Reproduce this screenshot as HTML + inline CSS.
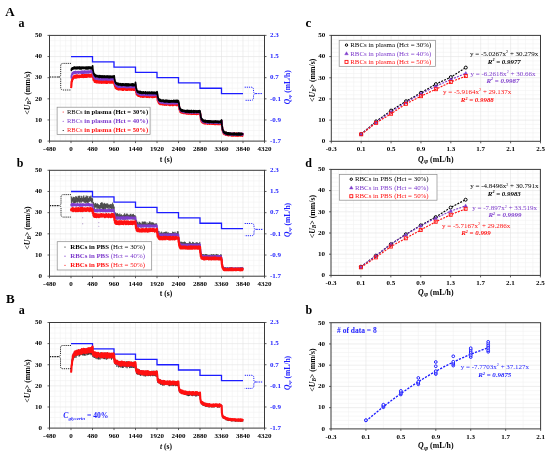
<!DOCTYPE html>
<html><head><meta charset="utf-8"><style>
html,body{margin:0;padding:0;background:#fff;}
body{width:550px;height:457px;overflow:hidden;font-family:"Liberation Serif", serif;}
svg{display:block;will-change:transform;}
</style></head><body>
<svg width="550" height="457" viewBox="0 0 550 457" font-family='"Liberation Serif", serif'>
<rect width="550" height="457" fill="#fff"/>
<text x="5.3" y="15.5" font-size="13" text-anchor="start" fill="#000" font-weight="bold" font-style="normal" >A</text>
<text x="18.6" y="27.2" font-size="12" text-anchor="start" fill="#000" font-weight="bold" font-style="normal" >a</text>
<text x="16.8" y="167.3" font-size="12" text-anchor="start" fill="#000" font-weight="bold" font-style="normal" >b</text>
<text x="305.4" y="27.3" font-size="13" text-anchor="start" fill="#000" font-weight="bold" font-style="normal" >c</text>
<text x="305.2" y="167.1" font-size="12" text-anchor="start" fill="#000" font-weight="bold" font-style="normal" >d</text>
<text x="6.1" y="303.1" font-size="13" text-anchor="start" fill="#000" font-weight="bold" font-style="normal" >B</text>
<text x="18.8" y="314.4" font-size="12" text-anchor="start" fill="#000" font-weight="bold" font-style="normal" >a</text>
<text x="305.6" y="314" font-size="12" text-anchor="start" fill="#000" font-weight="bold" font-style="normal" >b</text>
<line x1="54.88" y1="35.4" x2="54.88" y2="141.1" stroke="#f1f1f1" stroke-width="0.6" />
<line x1="60.25" y1="35.4" x2="60.25" y2="141.1" stroke="#f1f1f1" stroke-width="0.6" />
<line x1="65.62" y1="35.4" x2="65.62" y2="141.1" stroke="#f1f1f1" stroke-width="0.6" />
<line x1="76.38" y1="35.4" x2="76.38" y2="141.1" stroke="#f1f1f1" stroke-width="0.6" />
<line x1="81.75" y1="35.4" x2="81.75" y2="141.1" stroke="#f1f1f1" stroke-width="0.6" />
<line x1="87.12" y1="35.4" x2="87.12" y2="141.1" stroke="#f1f1f1" stroke-width="0.6" />
<line x1="97.88" y1="35.4" x2="97.88" y2="141.1" stroke="#f1f1f1" stroke-width="0.6" />
<line x1="103.25" y1="35.4" x2="103.25" y2="141.1" stroke="#f1f1f1" stroke-width="0.6" />
<line x1="108.62" y1="35.4" x2="108.62" y2="141.1" stroke="#f1f1f1" stroke-width="0.6" />
<line x1="119.38" y1="35.4" x2="119.38" y2="141.1" stroke="#f1f1f1" stroke-width="0.6" />
<line x1="124.75" y1="35.4" x2="124.75" y2="141.1" stroke="#f1f1f1" stroke-width="0.6" />
<line x1="130.12" y1="35.4" x2="130.12" y2="141.1" stroke="#f1f1f1" stroke-width="0.6" />
<line x1="140.88" y1="35.4" x2="140.88" y2="141.1" stroke="#f1f1f1" stroke-width="0.6" />
<line x1="146.25" y1="35.4" x2="146.25" y2="141.1" stroke="#f1f1f1" stroke-width="0.6" />
<line x1="151.62" y1="35.4" x2="151.62" y2="141.1" stroke="#f1f1f1" stroke-width="0.6" />
<line x1="162.38" y1="35.4" x2="162.38" y2="141.1" stroke="#f1f1f1" stroke-width="0.6" />
<line x1="167.75" y1="35.4" x2="167.75" y2="141.1" stroke="#f1f1f1" stroke-width="0.6" />
<line x1="173.12" y1="35.4" x2="173.12" y2="141.1" stroke="#f1f1f1" stroke-width="0.6" />
<line x1="183.88" y1="35.4" x2="183.88" y2="141.1" stroke="#f1f1f1" stroke-width="0.6" />
<line x1="189.25" y1="35.4" x2="189.25" y2="141.1" stroke="#f1f1f1" stroke-width="0.6" />
<line x1="194.62" y1="35.4" x2="194.62" y2="141.1" stroke="#f1f1f1" stroke-width="0.6" />
<line x1="205.38" y1="35.4" x2="205.38" y2="141.1" stroke="#f1f1f1" stroke-width="0.6" />
<line x1="210.75" y1="35.4" x2="210.75" y2="141.1" stroke="#f1f1f1" stroke-width="0.6" />
<line x1="216.12" y1="35.4" x2="216.12" y2="141.1" stroke="#f1f1f1" stroke-width="0.6" />
<line x1="226.88" y1="35.4" x2="226.88" y2="141.1" stroke="#f1f1f1" stroke-width="0.6" />
<line x1="232.25" y1="35.4" x2="232.25" y2="141.1" stroke="#f1f1f1" stroke-width="0.6" />
<line x1="237.62" y1="35.4" x2="237.62" y2="141.1" stroke="#f1f1f1" stroke-width="0.6" />
<line x1="248.38" y1="35.4" x2="248.38" y2="141.1" stroke="#f1f1f1" stroke-width="0.6" />
<line x1="253.75" y1="35.4" x2="253.75" y2="141.1" stroke="#f1f1f1" stroke-width="0.6" />
<line x1="259.12" y1="35.4" x2="259.12" y2="141.1" stroke="#f1f1f1" stroke-width="0.6" />
<line x1="49.5" y1="40.68" x2="264.5" y2="40.68" stroke="#f1f1f1" stroke-width="0.6" />
<line x1="49.5" y1="45.97" x2="264.5" y2="45.97" stroke="#f1f1f1" stroke-width="0.6" />
<line x1="49.5" y1="51.25" x2="264.5" y2="51.25" stroke="#f1f1f1" stroke-width="0.6" />
<line x1="49.5" y1="61.83" x2="264.5" y2="61.83" stroke="#f1f1f1" stroke-width="0.6" />
<line x1="49.5" y1="67.11" x2="264.5" y2="67.11" stroke="#f1f1f1" stroke-width="0.6" />
<line x1="49.5" y1="72.39" x2="264.5" y2="72.39" stroke="#f1f1f1" stroke-width="0.6" />
<line x1="49.5" y1="82.97" x2="264.5" y2="82.97" stroke="#f1f1f1" stroke-width="0.6" />
<line x1="49.5" y1="88.25" x2="264.5" y2="88.25" stroke="#f1f1f1" stroke-width="0.6" />
<line x1="49.5" y1="93.53" x2="264.5" y2="93.53" stroke="#f1f1f1" stroke-width="0.6" />
<line x1="49.5" y1="104.1" x2="264.5" y2="104.1" stroke="#f1f1f1" stroke-width="0.6" />
<line x1="49.5" y1="109.39" x2="264.5" y2="109.39" stroke="#f1f1f1" stroke-width="0.6" />
<line x1="49.5" y1="114.67" x2="264.5" y2="114.67" stroke="#f1f1f1" stroke-width="0.6" />
<line x1="49.5" y1="125.25" x2="264.5" y2="125.25" stroke="#f1f1f1" stroke-width="0.6" />
<line x1="49.5" y1="130.53" x2="264.5" y2="130.53" stroke="#f1f1f1" stroke-width="0.6" />
<line x1="49.5" y1="135.81" x2="264.5" y2="135.81" stroke="#f1f1f1" stroke-width="0.6" />
<line x1="71" y1="35.4" x2="71" y2="141.1" stroke="#e2e2e2" stroke-width="0.6" />
<line x1="92.5" y1="35.4" x2="92.5" y2="141.1" stroke="#e2e2e2" stroke-width="0.6" />
<line x1="114" y1="35.4" x2="114" y2="141.1" stroke="#e2e2e2" stroke-width="0.6" />
<line x1="135.5" y1="35.4" x2="135.5" y2="141.1" stroke="#e2e2e2" stroke-width="0.6" />
<line x1="157" y1="35.4" x2="157" y2="141.1" stroke="#e2e2e2" stroke-width="0.6" />
<line x1="178.5" y1="35.4" x2="178.5" y2="141.1" stroke="#e2e2e2" stroke-width="0.6" />
<line x1="200" y1="35.4" x2="200" y2="141.1" stroke="#e2e2e2" stroke-width="0.6" />
<line x1="221.5" y1="35.4" x2="221.5" y2="141.1" stroke="#e2e2e2" stroke-width="0.6" />
<line x1="243" y1="35.4" x2="243" y2="141.1" stroke="#e2e2e2" stroke-width="0.6" />
<line x1="49.5" y1="56.54" x2="264.5" y2="56.54" stroke="#e2e2e2" stroke-width="0.6" />
<line x1="49.5" y1="77.68" x2="264.5" y2="77.68" stroke="#e2e2e2" stroke-width="0.6" />
<line x1="49.5" y1="98.82" x2="264.5" y2="98.82" stroke="#e2e2e2" stroke-width="0.6" />
<line x1="49.5" y1="119.96" x2="264.5" y2="119.96" stroke="#e2e2e2" stroke-width="0.6" />
<line x1="47.5" y1="35.4" x2="49.5" y2="35.4" stroke="#3a3a3a" stroke-width="0.8" />
<line x1="264.5" y1="35.4" x2="266.5" y2="35.4" stroke="#3a3a3a" stroke-width="0.8" />
<line x1="47.5" y1="56.54" x2="49.5" y2="56.54" stroke="#3a3a3a" stroke-width="0.8" />
<line x1="264.5" y1="56.54" x2="266.5" y2="56.54" stroke="#3a3a3a" stroke-width="0.8" />
<line x1="47.5" y1="77.68" x2="49.5" y2="77.68" stroke="#3a3a3a" stroke-width="0.8" />
<line x1="264.5" y1="77.68" x2="266.5" y2="77.68" stroke="#3a3a3a" stroke-width="0.8" />
<line x1="47.5" y1="98.82" x2="49.5" y2="98.82" stroke="#3a3a3a" stroke-width="0.8" />
<line x1="264.5" y1="98.82" x2="266.5" y2="98.82" stroke="#3a3a3a" stroke-width="0.8" />
<line x1="47.5" y1="119.96" x2="49.5" y2="119.96" stroke="#3a3a3a" stroke-width="0.8" />
<line x1="264.5" y1="119.96" x2="266.5" y2="119.96" stroke="#3a3a3a" stroke-width="0.8" />
<line x1="47.5" y1="141.1" x2="49.5" y2="141.1" stroke="#3a3a3a" stroke-width="0.8" />
<line x1="264.5" y1="141.1" x2="266.5" y2="141.1" stroke="#3a3a3a" stroke-width="0.8" />
<line x1="49.5" y1="141.1" x2="49.5" y2="143.1" stroke="#3a3a3a" stroke-width="0.8" />
<line x1="71" y1="141.1" x2="71" y2="143.1" stroke="#3a3a3a" stroke-width="0.8" />
<line x1="92.5" y1="141.1" x2="92.5" y2="143.1" stroke="#3a3a3a" stroke-width="0.8" />
<line x1="114" y1="141.1" x2="114" y2="143.1" stroke="#3a3a3a" stroke-width="0.8" />
<line x1="135.5" y1="141.1" x2="135.5" y2="143.1" stroke="#3a3a3a" stroke-width="0.8" />
<line x1="157" y1="141.1" x2="157" y2="143.1" stroke="#3a3a3a" stroke-width="0.8" />
<line x1="178.5" y1="141.1" x2="178.5" y2="143.1" stroke="#3a3a3a" stroke-width="0.8" />
<line x1="200" y1="141.1" x2="200" y2="143.1" stroke="#3a3a3a" stroke-width="0.8" />
<line x1="221.5" y1="141.1" x2="221.5" y2="143.1" stroke="#3a3a3a" stroke-width="0.8" />
<line x1="243" y1="141.1" x2="243" y2="143.1" stroke="#3a3a3a" stroke-width="0.8" />
<line x1="264.5" y1="141.1" x2="264.5" y2="143.1" stroke="#3a3a3a" stroke-width="0.8" />
<text x="42.1" y="37.2" font-size="7" text-anchor="end" fill="#000" font-weight="bold" font-style="normal" >50</text>
<text x="269.9" y="37.2" font-size="7" text-anchor="start" fill="#1c1cff" font-weight="bold" font-style="normal" >2.3</text>
<text x="42.1" y="58.34" font-size="7" text-anchor="end" fill="#000" font-weight="bold" font-style="normal" >40</text>
<text x="269.9" y="58.34" font-size="7" text-anchor="start" fill="#1c1cff" font-weight="bold" font-style="normal" >1.5</text>
<text x="42.1" y="79.48" font-size="7" text-anchor="end" fill="#000" font-weight="bold" font-style="normal" >30</text>
<text x="269.9" y="79.48" font-size="7" text-anchor="start" fill="#1c1cff" font-weight="bold" font-style="normal" >0.7</text>
<text x="42.1" y="100.62" font-size="7" text-anchor="end" fill="#000" font-weight="bold" font-style="normal" >20</text>
<text x="269.9" y="100.62" font-size="7" text-anchor="start" fill="#1c1cff" font-weight="bold" font-style="normal" >-0.1</text>
<text x="42.1" y="121.76" font-size="7" text-anchor="end" fill="#000" font-weight="bold" font-style="normal" >10</text>
<text x="269.9" y="121.76" font-size="7" text-anchor="start" fill="#1c1cff" font-weight="bold" font-style="normal" >-0.9</text>
<text x="42.1" y="142.9" font-size="7" text-anchor="end" fill="#000" font-weight="bold" font-style="normal" >0</text>
<text x="269.9" y="142.9" font-size="7" text-anchor="start" fill="#1c1cff" font-weight="bold" font-style="normal" >-1.7</text>
<text x="49.5" y="150.9" font-size="7" text-anchor="middle" fill="#000" font-weight="bold" font-style="normal" >-480</text>
<text x="71" y="150.9" font-size="7" text-anchor="middle" fill="#000" font-weight="bold" font-style="normal" >0</text>
<text x="92.5" y="150.9" font-size="7" text-anchor="middle" fill="#000" font-weight="bold" font-style="normal" >480</text>
<text x="114" y="150.9" font-size="7" text-anchor="middle" fill="#000" font-weight="bold" font-style="normal" >960</text>
<text x="135.5" y="150.9" font-size="7" text-anchor="middle" fill="#000" font-weight="bold" font-style="normal" >1440</text>
<text x="157" y="150.9" font-size="7" text-anchor="middle" fill="#000" font-weight="bold" font-style="normal" >1920</text>
<text x="178.5" y="150.9" font-size="7" text-anchor="middle" fill="#000" font-weight="bold" font-style="normal" >2400</text>
<text x="200" y="150.9" font-size="7" text-anchor="middle" fill="#000" font-weight="bold" font-style="normal" >2880</text>
<text x="221.5" y="150.9" font-size="7" text-anchor="middle" fill="#000" font-weight="bold" font-style="normal" >3360</text>
<text x="243" y="150.9" font-size="7" text-anchor="middle" fill="#000" font-weight="bold" font-style="normal" >3840</text>
<text x="264.5" y="150.9" font-size="7" text-anchor="middle" fill="#000" font-weight="bold" font-style="normal" >4320</text>
<polyline points="71,56.54 92.5,56.54 92.5,61.83 114,61.83 114,67.11 135.5,67.11 135.5,72.39 157,72.39 157,77.68 178.5,77.68 178.5,82.97 200,82.97 200,88.25 221.5,88.25 221.5,93.53 243,93.53" fill="none" stroke="#1c1cff" stroke-width="1.3"/>
<polyline points="71,88 71.3,86.17 71.6,81.78 71.9,81.6 72.2,79.06 72.5,79.64 72.8,77.41 73.1,78.82 73.4,77.07 73.7,77.62 74,76.04 74.3,77.63 74.6,75.86 74.9,77.1 75.2,75.98 75.5,77.58 75.8,76.07 76.1,77.69 76.4,75.46 76.7,76.89 77,76.13 77.3,77.26 77.6,75.34 77.9,77.09 78.2,75.89 78.5,77.09 78.8,76 79.1,76.89 79.4,75.63 79.7,77.07 80,75.77 80.3,76.82 80.6,75.74 80.9,76.97 81.2,75.65 81.5,76.58 81.8,75.17 82.1,76.98 82.4,75.29 82.7,76.64 83,74.97 83.3,77.16 83.6,75.64 83.9,76.69 84.2,75.12 84.5,76.97 84.8,74.91 85.1,76.69 85.4,74.96 85.7,76.86 86,75.35 86.3,76.76 86.6,74.85 86.9,76.93 87.2,75.12 87.5,76.69 87.8,75.47 88.1,76.37 88.4,74.81 88.7,76.48 89,75.28 89.3,76.55 89.6,74.82 89.9,76.62 90.2,75.05 90.5,76.39 90.8,74.9 91.1,76.63 91.4,74.86 91.7,76.28 92,74.85 92.3,75.95 92.6,73.31 92.9,77.34 93.2,76.9 93.5,79.9 93.8,79.06 94.1,80.67 94.4,79.74 94.7,81.87 95,79.92 95.3,81.82 95.6,80.09 95.9,81.76 96.2,80.53 96.5,82.48 96.8,80.59 97.1,82.18 97.4,80.93 97.7,82.32 98,80.43 98.3,81.94 98.6,80.63 98.9,82.66 99.2,80.59 99.5,82.63 99.8,80.69 100.1,82.49 100.4,80.93 100.7,82.44 101,81.37 101.3,82.83 101.6,80.97 101.9,82.3 102.2,81.04 102.5,82.55 102.8,81.18 103.1,82.46 103.4,81.05 103.7,82.69 104,81 104.3,82.57 104.6,81.48 104.9,82.39 105.2,81.37 105.5,82.69 105.8,80.82 106.1,82.87 106.4,80.88 106.7,82.89 107,81.32 107.3,82.92 107.6,80.99 107.9,82.3 108.2,81.53 108.5,82.25 108.8,80.93 109.1,82.44 109.4,81.46 109.7,82.75 110,81.27 110.3,82.3 110.6,81.42 110.9,82.68 111.2,81.41 111.5,82.47 111.8,80.97 112.1,82.62 112.4,81.29 112.7,82.64 113,81.53 113.3,82.57 113.6,81.21 113.9,82.41 114.2,80.78 114.5,84.72 114.8,84.35 115.1,86.58 115.4,85.84 115.7,88.13 116,87.06 116.3,88.02 116.6,87.36 116.9,88.9 117.2,87.59 117.5,89.08 117.8,87.33 118.1,89.09 118.4,87.82 118.7,89.54 119,87.44 119.3,89.25 119.6,87.98 119.9,89.42 120.2,87.9 120.5,89.42 120.8,88.01 121.1,89.51 121.4,88.27 121.7,89.27 122,87.56 122.3,89.77 122.6,88.13 122.9,89.79 123.2,88.15 123.5,89.87 123.8,87.82 124.1,89.47 124.4,88.23 124.7,89.15 125,87.74 125.3,89.19 125.6,87.8 125.9,89.95 126.2,88.01 126.5,89.32 126.8,87.78 127.1,89.98 127.4,87.92 127.7,89.61 128,88.19 128.3,89.48 128.6,88.34 128.9,89.75 129.2,88.16 129.5,89.37 129.8,88.43 130.1,89.76 130.4,88.28 130.7,89.62 131,88.26 131.3,89.93 131.6,87.79 131.9,89.24 132.2,88.36 132.5,89.49 132.8,87.72 133.1,89.86 133.4,88.25 133.7,89.4 134,87.98 134.3,89.91 134.6,87.77 134.9,89.51 135.2,87.81 135.5,86.62 135.8,88.45 136.1,92.43 136.4,92.03 136.7,94.35 137,93.56 137.3,94.86 137.6,93.57 137.9,95.39 138.2,94.07 138.5,96 138.8,94.23 139.1,96 139.4,94.8 139.7,96.07 140,94.48 140.3,96.43 140.6,94.5 140.9,96.74 141.2,95.24 141.5,96.53 141.8,95.33 142.1,96.17 142.4,95.4 142.7,96.88 143,94.86 143.3,96.89 143.6,95.26 143.9,96.75 144.2,94.93 144.5,96.58 144.8,95.12 145.1,96.48 145.4,95.54 145.7,96.53 146,94.9 146.3,96.79 146.6,94.89 146.9,96.72 147.2,95.43 147.5,97 147.8,94.99 148.1,96.38 148.4,95.13 148.7,96.45 149,95.59 149.3,97.1 149.6,95.66 149.9,96.58 150.2,94.89 150.5,96.74 150.8,95.6 151.1,96.53 151.4,95.51 151.7,97.01 152,95.62 152.3,97.15 152.6,95.4 152.9,97.2 153.2,94.97 153.5,96.65 153.8,95.51 154.1,96.8 154.4,95.63 154.7,96.94 155,95.68 155.3,96.42 155.6,94.92 155.9,96.66 156.2,95.23 156.5,96.78 156.8,95.46 157.1,94.76 157.4,96.37 157.7,100.5 158,99.44 158.3,101.82 158.6,101.41 158.9,103.18 159.2,101.46 159.5,103.62 159.8,102.09 160.1,104.02 160.4,102.68 160.7,104.12 161,102.81 161.3,104.02 161.6,103.11 161.9,104.16 162.2,102.48 162.5,104.38 162.8,102.82 163.1,104.61 163.4,102.65 163.7,104.46 164,103.22 164.3,104.46 164.6,103.26 164.9,104.92 165.2,102.83 165.5,104.51 165.8,103.31 166.1,104.74 166.4,103.14 166.7,104.8 167,103.43 167.3,104.36 167.6,103.45 167.9,104.42 168.2,103.22 168.5,104.43 168.8,103.62 169.1,104.9 169.4,103.46 169.7,105.04 170,103.3 170.3,105.11 170.6,103.59 170.9,104.82 171.2,103.07 171.5,104.48 171.8,102.95 172.1,104.57 172.4,103.1 172.7,105.23 173,103.06 173.3,104.69 173.6,103.65 173.9,104.85 174.2,102.99 174.5,104.68 174.8,103.01 175.1,104.56 175.4,103 175.7,104.47 176,103.49 176.3,105.18 176.6,103.09 176.9,105.18 177.2,103.06 177.5,105.05 177.8,103.19 178.1,104.59 178.4,103.4 178.7,104.23 179,105.62 179.3,109.2 179.6,108.89 179.9,110.61 180.2,109.61 180.5,112.14 180.8,110.62 181.1,112.43 181.4,110.77 181.7,112.67 182,111.39 182.3,112.78 182.6,111.68 182.9,112.67 183.2,111.49 183.5,113.11 183.8,111.66 184.1,112.91 184.4,111.91 184.7,113.05 185,112.17 185.3,113.21 185.6,111.65 185.9,113.37 186.2,112.05 186.5,113.59 186.8,112.23 187.1,113.14 187.4,112.02 187.7,113.57 188,111.95 188.3,113.55 188.6,111.94 188.9,113.81 189.2,112.33 189.5,113.63 189.8,112.15 190.1,113.43 190.4,112.22 190.7,113.71 191,111.83 191.3,114.02 191.6,112.35 191.9,113.81 192.2,112.55 192.5,113.35 192.8,112.18 193.1,114.01 193.4,112.47 193.7,113.92 194,111.89 194.3,113.56 194.6,112.05 194.9,114 195.2,112.31 195.5,113.88 195.8,112.02 196.1,113.8 196.4,111.92 196.7,114.05 197,111.84 197.3,113.79 197.6,112.48 197.9,113.53 198.2,112.45 198.5,113.79 198.8,112.01 199.1,113.37 199.4,112.07 199.7,113.91 200,112.35 200.3,114.81 200.6,116.17 200.9,119.27 201.2,119.05 201.5,121.35 201.8,119.74 202.1,122 202.4,120.87 202.7,122.76 203,120.72 203.3,122.46 203.6,121.13 203.9,123.25 204.2,121.42 204.5,123.3 204.8,121.74 205.1,123.61 205.4,121.42 205.7,123.27 206,121.65 206.3,123.39 206.6,122.24 206.9,123.37 207.2,122.34 207.5,123.91 207.8,121.71 208.1,123.31 208.4,122.05 208.7,123.59 209,122.48 209.3,123.53 209.6,122.41 209.9,123.93 210.2,122.63 210.5,123.5 210.8,122.3 211.1,123.38 211.4,122.17 211.7,123.88 212,122.01 212.3,123.57 212.6,122.48 212.9,123.85 213.2,122.5 213.5,123.9 213.8,122.52 214.1,123.99 214.4,122.09 214.7,124.1 215,121.95 215.3,123.89 215.6,122.35 215.9,124.15 216.2,122.13 216.5,123.92 216.8,122.45 217.1,123.69 217.4,122.67 217.7,124.12 218,122.67 218.3,124.07 218.6,122.32 218.9,124.25 219.2,122.15 219.5,124.26 219.8,122.66 220.1,123.88 220.4,122.31 220.7,123.73 221,122.37 221.3,123.76 221.6,120.97 221.9,126.02 222.2,127.44 222.5,130.49 222.8,130.27 223.1,132.31 223.4,131.21 223.7,133.51 224,132.16 224.3,134.03 224.6,132.69 224.9,134.02 225.2,133.28 225.5,134.32 225.8,133 226.1,134.99 226.4,132.97 226.7,134.83 227,132.97 227.3,134.9 227.6,133.2 227.9,134.95 228.2,133.35 228.5,135.5 228.8,133.78 229.1,134.9 229.4,133.58 229.7,135.24 230,133.85 230.3,134.86 230.6,133.86 230.9,135.24 231.2,133.89 231.5,135.63 231.8,133.77 232.1,135.55 232.4,133.54 232.7,135.59 233,133.89 233.3,135.61 233.6,133.79 233.9,135.54 234.2,133.81 234.5,135.36 234.8,133.83 235.1,135.56 235.4,133.59 235.7,135.69 236,133.67 236.3,135.68 236.6,133.7 236.9,135.56 237.2,134.09 237.5,135.29 237.8,133.8 238.1,135.79 238.4,133.94 238.7,135.21 239,133.71 239.3,135.48 239.6,134.01 239.9,135.13 240.2,133.98 240.5,135.7 240.8,134.05 241.1,135.38 241.4,133.86 241.7,135.11 242,133.99 242.3,135.87 242.6,133.84 242.9,135.43" fill="none" stroke="#ff1010" stroke-width="2.2" stroke-linejoin="round"/>
<polyline points="71,77.6 71.3,77.75 71.6,75.29 71.9,75.08 72.2,73.27 72.5,74.43 72.8,72.6 73.1,73.58 73.4,72.23 73.7,73.48 74,72.02 74.3,73.02 74.6,72 74.9,73.08 75.2,71.73 75.5,73.42 75.8,71.53 76.1,73.07 76.4,71.83 76.7,72.86 77,72.07 77.3,72.67 77.6,71.76 77.9,72.84 78.2,71.79 78.5,73.19 78.8,71.67 79.1,72.95 79.4,71.83 79.7,72.57 80,71.75 80.3,72.62 80.6,71.6 80.9,73.17 81.2,71.47 81.5,72.6 81.8,71.3 82.1,72.99 82.4,71.38 82.7,73.04 83,71.34 83.3,72.93 83.6,71.59 83.9,73.04 84.2,71.16 84.5,72.47 84.8,71.28 85.1,72.81 85.4,71.45 85.7,72.67 86,71.4 86.3,72.91 86.6,71.37 86.9,72.82 87.2,71.45 87.5,72.83 87.8,71.06 88.1,72.53 88.4,71.26 88.7,72.81 89,71.13 89.3,72.5 89.6,71.44 89.9,72.36 90.2,71.1 90.5,72.24 90.8,70.94 91.1,72.28 91.4,70.91 91.7,72.28 92,70.86 92.3,72.52 92.6,69.36 92.9,73.58 93.2,74.03 93.5,76.57 93.8,76.15 94.1,77.58 94.4,76.89 94.7,78.69 95,77.28 95.3,78.47 95.6,77.43 95.9,79.13 96.2,77.55 96.5,78.93 96.8,77.79 97.1,78.95 97.4,77.96 97.7,79.18 98,78.32 98.3,79.66 98.6,78.46 98.9,79.48 99.2,78.02 99.5,79.35 99.8,78.49 100.1,79.81 100.4,78.39 100.7,79.73 101,78.68 101.3,79.53 101.6,78.61 101.9,79.76 102.2,78.7 102.5,79.97 102.8,78.75 103.1,79.83 103.4,78.77 103.7,79.53 104,78.26 104.3,79.48 104.6,78.69 104.9,79.85 105.2,78.56 105.5,79.42 105.8,78.17 106.1,79.5 106.4,78.81 106.7,79.64 107,78.43 107.3,79.91 107.6,78.77 107.9,79.64 108.2,78.83 108.5,79.72 108.8,78.34 109.1,79.92 109.4,78.26 109.7,79.93 110,78.29 110.3,79.9 110.6,78.55 110.9,79.58 111.2,78.42 111.5,79.65 111.8,78.8 112.1,79.74 112.4,78.28 112.7,79.52 113,78.48 113.3,79.7 113.6,78.53 113.9,79.54 114.2,77.66 114.5,81.59 114.8,82.01 115.1,84.27 115.4,84.08 115.7,85.5 116,84.8 116.3,85.75 116.6,85.31 116.9,86.16 117.2,85.53 117.5,86.69 117.8,85.44 118.1,87.07 118.4,85.28 118.7,87.19 119,85.85 119.3,86.91 119.6,85.91 119.9,87.08 120.2,85.73 120.5,87.28 120.8,85.73 121.1,86.96 121.4,85.96 121.7,87.18 122,86.28 122.3,86.89 122.6,86.04 122.9,86.97 123.2,85.86 123.5,87.08 123.8,86.29 124.1,87.06 124.4,86.23 124.7,87.1 125,86.05 125.3,87.28 125.6,86.2 125.9,87.41 126.2,86.28 126.5,87.6 126.8,85.79 127.1,87.49 127.4,86.15 127.7,87.35 128,86.06 128.3,87.05 128.6,86.17 128.9,87.38 129.2,86.34 129.5,87.09 129.8,85.93 130.1,87.28 130.4,86.12 130.7,87.65 131,86.06 131.3,87.23 131.6,85.82 131.9,87.29 132.2,86.46 132.5,87.5 132.8,86.41 133.1,87.25 133.4,85.92 133.7,87.5 134,86.47 134.3,87.35 134.6,86.21 134.9,87.37 135.2,86.34 135.5,84.28 135.8,86.91 136.1,89.91 136.4,90.28 136.7,92.62 137,91.98 137.3,93.53 137.6,92.64 137.9,93.95 138.2,92.92 138.5,94.2 138.8,92.93 139.1,94.36 139.4,93.52 139.7,94.32 140,93.67 140.3,94.92 140.6,93.4 140.9,95.08 141.2,93.44 141.5,94.52 141.8,93.53 142.1,95.08 142.4,93.54 142.7,94.95 143,93.83 143.3,94.96 143.6,93.57 143.9,94.87 144.2,93.78 144.5,95.04 144.8,93.52 145.1,95.28 145.4,93.56 145.7,95.32 146,94 146.3,94.94 146.6,93.89 146.9,94.97 147.2,93.95 147.5,95.26 147.8,93.63 148.1,95.21 148.4,93.71 148.7,94.89 149,94.02 149.3,95.5 149.6,94.17 149.9,95.12 150.2,94.23 150.5,94.91 150.8,93.68 151.1,95.51 151.4,93.85 151.7,94.94 152,94.09 152.3,95.01 152.6,93.84 152.9,95.32 153.2,94 153.5,95.21 153.8,94.22 154.1,95.23 154.4,93.66 154.7,95.37 155,94.23 155.3,95.21 155.6,93.82 155.9,95.04 156.2,93.7 156.5,95.18 156.8,93.83 157.1,93.45 157.4,95.1 157.7,98.79 158,98.56 158.3,100.43 158.6,100.03 158.9,101.31 159.2,100.62 159.5,102.4 159.8,101.29 160.1,102.46 160.4,101.34 160.7,102.59 161,101.36 161.3,103.09 161.6,101.49 161.9,102.9 162.2,101.42 162.5,102.89 162.8,101.64 163.1,103.18 163.4,101.7 163.7,103.37 164,102.11 164.3,103.27 164.6,102.04 164.9,103.34 165.2,101.69 165.5,103.35 165.8,102.37 166.1,103.27 166.4,101.93 166.7,103.57 167,101.99 167.3,103.55 167.6,102.43 167.9,103.65 168.2,101.97 168.5,103.44 168.8,101.87 169.1,103.64 169.4,102.42 169.7,103.61 170,101.99 170.3,103.2 170.6,102.01 170.9,103.47 171.2,102.38 171.5,103.62 171.8,102.43 172.1,103.5 172.4,102.23 172.7,103.27 173,102.15 173.3,103.41 173.6,102.39 173.9,103.75 174.2,102.49 174.5,103.11 174.8,102.21 175.1,103.67 175.4,102.1 175.7,103.61 176,102.22 176.3,103.56 176.6,102.32 176.9,103.29 177.2,102.21 177.5,103.13 177.8,102.49 178.1,103.62 178.4,102.43 178.7,103.35 179,104.64 179.3,107.81 179.6,107.7 179.9,110.05 180.2,108.94 180.5,110.58 180.8,110.11 181.1,111.27 181.4,110.31 181.7,111.53 182,110.88 182.3,111.93 182.6,110.43 182.9,111.96 183.2,110.85 183.5,112.09 183.8,111.02 184.1,112.51 184.4,111.19 184.7,112.44 185,111.15 185.3,112.43 185.6,110.92 185.9,112.18 186.2,111.03 186.5,112.38 186.8,111.19 187.1,112.74 187.4,111.22 187.7,112.51 188,111.13 188.3,112.33 188.6,111.29 188.9,112.56 189.2,111.38 189.5,112.88 189.8,111.22 190.1,112.75 190.4,111.56 190.7,112.5 191,111.48 191.3,112.51 191.6,111.61 191.9,113.01 192.2,111.73 192.5,112.92 192.8,111.56 193.1,112.63 193.4,111.6 193.7,112.44 194,111.52 194.3,112.51 194.6,111.53 194.9,112.59 195.2,111.24 195.5,113.02 195.8,111.54 196.1,112.83 196.4,111.22 196.7,112.63 197,111.77 197.3,112.57 197.6,111.72 197.9,112.87 198.2,111.59 198.5,112.65 198.8,111.32 199.1,112.57 199.4,111.31 199.7,112.84 200,111.58 200.3,114.09 200.6,115.39 200.9,118.47 201.2,117.83 201.5,120.13 201.8,119.32 202.1,121.38 202.4,119.99 202.7,121.79 203,120.32 203.3,122.24 203.6,120.67 203.9,122.5 204.2,121.17 204.5,122.43 204.8,121.07 205.1,122.39 205.4,121.36 205.7,122.36 206,121.08 206.3,122.57 206.6,121.48 206.9,123 207.2,121.74 207.5,123.1 207.8,121.83 208.1,122.53 208.4,121.73 208.7,122.79 209,121.39 209.3,123.18 209.6,121.53 209.9,122.91 210.2,121.7 210.5,122.8 210.8,121.53 211.1,122.92 211.4,121.91 211.7,123.11 212,122.02 212.3,122.91 212.6,121.52 212.9,122.77 213.2,122.05 213.5,122.86 213.8,121.99 214.1,123.01 214.4,122 214.7,122.97 215,122.01 215.3,122.91 215.6,121.77 215.9,122.98 216.2,121.93 216.5,123.27 216.8,122.15 217.1,122.86 217.4,121.62 217.7,123.05 218,121.68 218.3,122.85 218.6,121.85 218.9,123.33 219.2,121.97 219.5,123.28 219.8,121.79 220.1,123.04 220.4,121.54 220.7,123.04 221,121.89 221.3,123.19 221.6,120.64 221.9,125.95 222.2,126.93 222.5,129.94 222.8,129.74 223.1,132.1 223.4,130.78 223.7,132.99 224,131.87 224.3,133.26 224.6,132.26 224.9,133.37 225.2,132.83 225.5,134.25 225.8,133.03 226.1,134.4 226.4,132.82 226.7,134.52 227,133.35 227.3,134.23 227.6,132.97 227.9,134.13 228.2,133.52 228.5,134.43 228.8,133.55 229.1,134.36 229.4,133.28 229.7,134.38 230,133.13 230.3,134.8 230.6,133.78 230.9,135 231.2,133.69 231.5,134.76 231.8,133.51 232.1,134.56 232.4,133.57 232.7,134.53 233,133.8 233.3,135.12 233.6,133.4 233.9,134.88 234.2,133.51 234.5,135.12 234.8,133.88 235.1,134.88 235.4,133.9 235.7,134.64 236,133.93 236.3,134.71 236.6,133.97 236.9,134.72 237.2,133.76 237.5,135 237.8,133.45 238.1,135.19 238.4,133.55 238.7,134.93 239,133.42 239.3,134.71 239.6,133.96 239.9,135.15 240.2,133.62 240.5,134.75 240.8,133.79 241.1,134.81 241.4,133.75 241.7,134.89 242,133.77 242.3,135.14 242.6,133.5 242.9,134.99" fill="none" stroke="#7e3ccc" stroke-width="1.8" stroke-linejoin="round"/>
<polyline points="71,69.84 71.3,70.27 71.6,68.61 71.9,69.49 72.2,67.86 72.5,68.72 72.8,67.97 73.1,69.02 73.4,67.66 73.7,68.51 74,67.09 74.3,68.61 74.6,67.16 74.9,68.59 75.2,67.27 75.5,68.36 75.8,67.26 76.1,68.83 76.4,67.33 76.7,68.74 77,67.23 77.3,68.29 77.6,67.17 77.9,68.64 78.2,67.47 78.5,68.26 78.8,67.09 79.1,68.56 79.4,67.19 79.7,68.83 80,67.19 80.3,68.85 80.6,67.41 80.9,68.77 81.2,67.37 81.5,68.86 81.8,67.08 82.1,68.31 82.4,67.58 82.7,68.39 83,67.03 83.3,68.53 83.6,67.25 83.9,68.44 84.2,67.33 84.5,68.5 84.8,67.44 85.1,68.63 85.4,67.28 85.7,68.84 86,67.22 86.3,68.86 86.6,67.1 86.9,68.9 87.2,67.22 87.5,68.35 87.8,67.1 88.1,68.88 88.4,67.07 88.7,68.62 89,67.19 89.3,68.38 89.6,67.12 89.9,68.62 90.2,67.48 90.5,68.28 90.8,67.1 91.1,68.9 91.4,67.61 91.7,68.77 92,67.4 92.3,68.34 92.6,65.84 92.9,70.42 93.2,70.79 93.5,73.28 93.8,73.14 94.1,74.75 94.4,74.11 94.7,75.69 95,74.55 95.3,76.55 95.6,75.13 95.9,76.83 96.2,75.48 96.5,76.4 96.8,75.45 97.1,76.5 97.4,75.84 97.7,76.86 98,75.66 98.3,76.78 98.6,76.11 98.9,77.32 99.2,76 99.5,77.44 99.8,75.66 100.1,77.1 100.4,76 100.7,77.24 101,75.91 101.3,77.33 101.6,76 101.9,77.37 102.2,75.77 102.5,77.32 102.8,76.14 103.1,77.48 103.4,76.28 103.7,77.22 104,75.81 104.3,77.38 104.6,76.11 104.9,77.06 105.2,76.21 105.5,77.45 105.8,76.48 106.1,77.48 106.4,76.08 106.7,77.12 107,76.09 107.3,77.39 107.6,76.06 107.9,77.32 108.2,76.05 108.5,77.59 108.8,76.51 109.1,77.14 109.4,76.08 109.7,77.74 110,76.36 110.3,77.41 110.6,76.14 110.9,77.32 111.2,76.29 111.5,77.32 111.8,76.29 112.1,77.51 112.4,76.34 112.7,77.36 113,76.03 113.3,77.13 113.6,76.16 113.9,77.6 114.2,75.84 114.5,79.4 114.8,79.77 115.1,82.09 115.4,81.94 115.7,83.41 116,82.44 116.3,83.81 116.6,83.15 116.9,84.31 117.2,83.09 117.5,84.61 117.8,83.26 118.1,84.59 118.4,83.74 118.7,85.03 119,83.48 119.3,84.99 119.6,84.01 119.9,84.84 120.2,83.87 120.5,84.95 120.8,83.74 121.1,85.43 121.4,84.2 121.7,85.1 122,83.83 122.3,85.38 122.6,83.86 122.9,85.22 123.2,84.34 123.5,85.21 123.8,83.92 124.1,85.21 124.4,84.24 124.7,85.33 125,84.21 125.3,85.34 125.6,83.89 125.9,85.18 126.2,84.51 126.5,85.72 126.8,83.94 127.1,85.76 127.4,84.25 127.7,85.74 128,83.92 128.3,85.26 128.6,84.05 128.9,85.68 129.2,84.11 129.5,85.47 129.8,84.37 130.1,85.36 130.4,84.41 130.7,85.18 131,84.17 131.3,85.33 131.6,84.03 131.9,85.17 132.2,83.97 132.5,85.6 132.8,83.96 133.1,85.74 133.4,83.97 133.7,85.53 134,84.57 134.3,85.64 134.6,84.46 134.9,85.35 135.2,84.14 135.5,82.33 135.8,84.83 136.1,88.53 136.4,88.33 136.7,90.46 137,90.11 137.3,91.86 137.6,90.72 137.9,92.36 138.2,91.22 138.5,92.3 138.8,91.36 139.1,92.93 139.4,91.78 139.7,93.06 140,91.41 140.3,93.18 140.6,91.57 140.9,92.74 141.2,91.78 141.5,93.38 141.8,92.23 142.1,93.05 142.4,92.14 142.7,93.27 143,92.09 143.3,93.27 143.6,91.89 143.9,92.99 144.2,92.4 144.5,93.11 144.8,92.38 145.1,93.09 145.4,91.84 145.7,93.64 146,92.45 146.3,93.42 146.6,92.31 146.9,93.31 147.2,92.3 147.5,93.55 147.8,92.16 148.1,93.37 148.4,92.43 148.7,93.35 149,92.49 149.3,93.51 149.6,92.1 149.9,93.4 150.2,92.53 150.5,93.27 150.8,92.34 151.1,93.56 151.4,92.07 151.7,93.42 152,92.06 152.3,93.58 152.6,92.31 152.9,93.42 153.2,92.27 153.5,93.64 153.8,92.32 154.1,93.64 154.4,92.3 154.7,93.34 155,92.25 155.3,93.64 155.6,92.56 155.9,93.46 156.2,92.33 156.5,93.77 156.8,91.99 157.1,91.76 157.4,93.55 157.7,97.21 158,97.2 158.3,99.09 158.6,98.71 158.9,100.31 159.2,99.06 159.5,100.89 159.8,99.38 160.1,101.06 160.4,99.67 160.7,101.2 161,100.27 161.3,101.37 161.6,100.46 161.9,101.18 162.2,100.05 162.5,101.21 162.8,100.59 163.1,101.32 163.4,100.13 163.7,101.43 164,100.75 164.3,101.93 164.6,100.74 164.9,101.97 165.2,100.41 165.5,102 165.8,100.26 166.1,101.86 166.4,100.39 166.7,101.53 167,100.43 167.3,101.86 167.6,100.49 167.9,101.61 168.2,100.48 168.5,102.18 168.8,100.95 169.1,101.79 169.4,100.63 169.7,102.13 170,100.85 170.3,101.71 170.6,100.86 170.9,102.01 171.2,100.53 171.5,101.87 171.8,100.79 172.1,101.88 172.4,100.81 172.7,101.89 173,100.99 173.3,101.95 173.6,100.4 173.9,101.9 174.2,100.56 174.5,101.73 174.8,100.6 175.1,102.13 175.4,100.61 175.7,101.98 176,100.74 176.3,102.06 176.6,100.46 176.9,101.73 177.2,101 177.5,102.13 177.8,100.45 178.1,101.98 178.4,100.77 178.7,102 179,103.88 179.3,106.68 179.6,107.07 179.9,109.02 180.2,108.46 180.5,109.83 180.8,108.97 181.1,110.89 181.4,109.68 181.7,111.08 182,109.89 182.3,111.41 182.6,109.97 182.9,111.19 183.2,110.37 183.5,111.16 183.8,110.31 184.1,111.51 184.4,110.61 184.7,111.58 185,110.59 185.3,111.92 185.6,110.77 185.9,112.13 186.2,110.6 186.5,111.92 186.8,110.66 187.1,112.11 187.4,110.46 187.7,111.97 188,110.72 188.3,112.1 188.6,110.5 188.9,111.92 189.2,110.6 189.5,112.31 189.8,110.8 190.1,111.84 190.4,110.97 190.7,112.18 191,110.69 191.3,112.36 191.6,110.58 191.9,111.89 192.2,111.04 192.5,111.91 192.8,111.05 193.1,112.22 193.4,110.61 193.7,112.35 194,111.02 194.3,112.33 194.6,110.98 194.9,112.05 195.2,110.71 195.5,111.82 195.8,111.14 196.1,112.33 196.4,111.01 196.7,112.01 197,110.82 197.3,112.23 197.6,111.2 197.9,112 198.2,110.92 198.5,112.1 198.8,111.07 199.1,112.17 199.4,110.58 199.7,112.04 200,110.85 200.3,112.98 200.6,114.8 200.9,117.69 201.2,117.73 201.5,119.75 201.8,118.54 202.1,120.18 202.4,119.22 202.7,120.9 203,119.75 203.3,121.49 203.6,120.34 203.9,121.66 204.2,120.3 204.5,121.92 204.8,120.7 205.1,122.01 205.4,120.35 205.7,122.06 206,120.73 206.3,121.77 206.6,120.84 206.9,122 207.2,120.75 207.5,122.28 207.8,120.91 208.1,122 208.4,120.9 208.7,122.34 209,121.25 209.3,122.55 209.6,120.96 209.9,122.07 210.2,120.81 210.5,122.1 210.8,121.23 211.1,122.51 211.4,121.07 211.7,122.42 212,121.06 212.3,122.37 212.6,121.29 212.9,122.19 213.2,121.47 213.5,122.56 213.8,121.02 214.1,122.46 214.4,121.04 214.7,122.34 215,121.36 215.3,122.37 215.6,120.96 215.9,122.15 216.2,121.21 216.5,122.29 216.8,121.04 217.1,122.36 217.4,121.34 217.7,122.4 218,121.2 218.3,122.65 218.6,121.33 218.9,122.7 219.2,121.49 219.5,122.32 219.8,121.5 220.1,122.21 220.4,121.05 220.7,122.62 221,121.45 221.3,122.27 221.6,119.98 221.9,125.39 222.2,126.36 222.5,129.66 222.8,129.35 223.1,131.22 223.4,130.87 223.7,132.27 224,131.54 224.3,133.1 224.6,132.22 224.9,133.25 225.2,132.13 225.5,133.36 225.8,132.34 226.1,134.12 226.4,132.4 226.7,133.93 227,132.8 227.3,134.18 227.6,132.85 227.9,134.54 228.2,132.91 228.5,134.17 228.8,132.86 229.1,134.36 229.4,133.1 229.7,134.58 230,133.55 230.3,134.66 230.6,133.16 230.9,134.51 231.2,133.29 231.5,134.53 231.8,133.54 232.1,134.6 232.4,133.67 232.7,134.61 233,133.28 233.3,134.59 233.6,133.36 233.9,134.95 234.2,133.16 234.5,134.42 234.8,133.24 235.1,134.76 235.4,133.74 235.7,134.59 236,133.63 236.3,134.41 236.6,133.43 236.9,134.99 237.2,133.58 237.5,134.95 237.8,133.34 238.1,134.47 238.4,133.24 238.7,134.78 239,133.2 239.3,134.86 239.6,133.33 239.9,134.62 240.2,133.28 240.5,135.01 240.8,133.25 241.1,134.69 241.4,133.32 241.7,134.72 242,133.76 242.3,134.43 242.6,133.78 242.9,134.53" fill="none" stroke="#000" stroke-width="1.7" stroke-linejoin="round"/>
<path d="M71,63.4 H63.1 Q60.7,63.4 60.7,65.8 V74.6 Q60.7,77 58.3,77 Q60.7,77 60.7,79.4 V87.6 Q60.7,90 63.1,90 H71" fill="none" stroke="#222" stroke-width="0.95" stroke-dasharray="1.2,0.9"/>
<line x1="49.5" y1="77" x2="58.3" y2="77" stroke="#222" stroke-width="1.1" stroke-dasharray="1.6,0.8"/>
<path d="M244.7,87.2 H251.1 Q253.5,87.2 253.5,89.6 V91.2 Q253.5,93.6 255.9,93.6 Q253.5,93.6 253.5,96 V97.9 Q253.5,100.3 251.1,100.3 H244.7" fill="none" stroke="#1c1cff" stroke-width="0.95" stroke-dasharray="1.2,0.9"/>
<line x1="255.9" y1="93.6" x2="262.5" y2="93.6" stroke="#1c1cff" stroke-width="1.0" stroke-dasharray="1.4,0.9"/>
<rect x="49.5" y="35.4" width="215" height="105.7" fill="none" stroke="#3a3a3a" stroke-width="1"/>
<text transform="translate(29.5,93) rotate(-90)" text-anchor="middle" font-size="7.8" font-weight="bold">&lt;<tspan font-style="italic">U</tspan><tspan font-size="5.07" dy="1.5" font-style="italic">B</tspan><tspan dy="-1.5">&gt; (mm/s)</tspan></text>
<text transform="translate(289.5,87.3) rotate(-90)" text-anchor="middle" font-size="7.5" font-weight="bold" fill="#1c1cff"><tspan font-style="italic">Q</tspan><tspan font-size="4.875" dy="1.5" font-style="italic">sp</tspan><tspan dy="-1.5"> (mL/h)</tspan></text>
<text x="166" y="162" text-anchor="middle" font-size="7.5" font-weight="bold"><tspan font-style="normal">t</tspan> (s)</text>
<rect x="57.1" y="107.2" width="93" height="27.2" fill="#fff" stroke="#8a8a8a" stroke-width="0.7"/>
<circle cx="63.2" cy="112" r="0.6" fill="#ff1010"/>
<text x="66.9" y="113.8" font-size="6.6" fill="#000">RBCs <tspan font-weight="bold">in plasma (Hct = 30%)</tspan></text>
<circle cx="63.2" cy="121.25" r="0.6" fill="#7e3ccc"/>
<text x="66.9" y="123.05" font-size="6.6" fill="#7e3ccc">RBCs <tspan font-weight="bold">in plasma (Hct = 40%)</tspan></text>
<circle cx="63.2" cy="130.5" r="0.6" fill="#000"/>
<text x="66.9" y="132.3" font-size="6.6" fill="#ff1010">RBCs <tspan font-weight="bold">in plasma (Hct = 50%)</tspan></text>
<line x1="338.77" y1="35.4" x2="338.77" y2="141.3" stroke="#f1f1f1" stroke-width="0.6" />
<line x1="346.24" y1="35.4" x2="346.24" y2="141.3" stroke="#f1f1f1" stroke-width="0.6" />
<line x1="353.71" y1="35.4" x2="353.71" y2="141.3" stroke="#f1f1f1" stroke-width="0.6" />
<line x1="368.66" y1="35.4" x2="368.66" y2="141.3" stroke="#f1f1f1" stroke-width="0.6" />
<line x1="376.13" y1="35.4" x2="376.13" y2="141.3" stroke="#f1f1f1" stroke-width="0.6" />
<line x1="383.6" y1="35.4" x2="383.6" y2="141.3" stroke="#f1f1f1" stroke-width="0.6" />
<line x1="398.54" y1="35.4" x2="398.54" y2="141.3" stroke="#f1f1f1" stroke-width="0.6" />
<line x1="406.01" y1="35.4" x2="406.01" y2="141.3" stroke="#f1f1f1" stroke-width="0.6" />
<line x1="413.49" y1="35.4" x2="413.49" y2="141.3" stroke="#f1f1f1" stroke-width="0.6" />
<line x1="428.43" y1="35.4" x2="428.43" y2="141.3" stroke="#f1f1f1" stroke-width="0.6" />
<line x1="435.9" y1="35.4" x2="435.9" y2="141.3" stroke="#f1f1f1" stroke-width="0.6" />
<line x1="443.37" y1="35.4" x2="443.37" y2="141.3" stroke="#f1f1f1" stroke-width="0.6" />
<line x1="458.31" y1="35.4" x2="458.31" y2="141.3" stroke="#f1f1f1" stroke-width="0.6" />
<line x1="465.79" y1="35.4" x2="465.79" y2="141.3" stroke="#f1f1f1" stroke-width="0.6" />
<line x1="473.26" y1="35.4" x2="473.26" y2="141.3" stroke="#f1f1f1" stroke-width="0.6" />
<line x1="488.2" y1="35.4" x2="488.2" y2="141.3" stroke="#f1f1f1" stroke-width="0.6" />
<line x1="495.67" y1="35.4" x2="495.67" y2="141.3" stroke="#f1f1f1" stroke-width="0.6" />
<line x1="503.14" y1="35.4" x2="503.14" y2="141.3" stroke="#f1f1f1" stroke-width="0.6" />
<line x1="518.09" y1="35.4" x2="518.09" y2="141.3" stroke="#f1f1f1" stroke-width="0.6" />
<line x1="525.56" y1="35.4" x2="525.56" y2="141.3" stroke="#f1f1f1" stroke-width="0.6" />
<line x1="533.03" y1="35.4" x2="533.03" y2="141.3" stroke="#f1f1f1" stroke-width="0.6" />
<line x1="331.3" y1="137.06" x2="540.5" y2="137.06" stroke="#f1f1f1" stroke-width="0.6" />
<line x1="331.3" y1="132.83" x2="540.5" y2="132.83" stroke="#f1f1f1" stroke-width="0.6" />
<line x1="331.3" y1="128.59" x2="540.5" y2="128.59" stroke="#f1f1f1" stroke-width="0.6" />
<line x1="331.3" y1="124.36" x2="540.5" y2="124.36" stroke="#f1f1f1" stroke-width="0.6" />
<line x1="331.3" y1="115.88" x2="540.5" y2="115.88" stroke="#f1f1f1" stroke-width="0.6" />
<line x1="331.3" y1="111.65" x2="540.5" y2="111.65" stroke="#f1f1f1" stroke-width="0.6" />
<line x1="331.3" y1="107.41" x2="540.5" y2="107.41" stroke="#f1f1f1" stroke-width="0.6" />
<line x1="331.3" y1="103.18" x2="540.5" y2="103.18" stroke="#f1f1f1" stroke-width="0.6" />
<line x1="331.3" y1="94.7" x2="540.5" y2="94.7" stroke="#f1f1f1" stroke-width="0.6" />
<line x1="331.3" y1="90.47" x2="540.5" y2="90.47" stroke="#f1f1f1" stroke-width="0.6" />
<line x1="331.3" y1="86.23" x2="540.5" y2="86.23" stroke="#f1f1f1" stroke-width="0.6" />
<line x1="331.3" y1="82" x2="540.5" y2="82" stroke="#f1f1f1" stroke-width="0.6" />
<line x1="331.3" y1="73.52" x2="540.5" y2="73.52" stroke="#f1f1f1" stroke-width="0.6" />
<line x1="331.3" y1="69.29" x2="540.5" y2="69.29" stroke="#f1f1f1" stroke-width="0.6" />
<line x1="331.3" y1="65.05" x2="540.5" y2="65.05" stroke="#f1f1f1" stroke-width="0.6" />
<line x1="331.3" y1="60.82" x2="540.5" y2="60.82" stroke="#f1f1f1" stroke-width="0.6" />
<line x1="331.3" y1="52.34" x2="540.5" y2="52.34" stroke="#f1f1f1" stroke-width="0.6" />
<line x1="331.3" y1="48.11" x2="540.5" y2="48.11" stroke="#f1f1f1" stroke-width="0.6" />
<line x1="331.3" y1="43.87" x2="540.5" y2="43.87" stroke="#f1f1f1" stroke-width="0.6" />
<line x1="331.3" y1="39.64" x2="540.5" y2="39.64" stroke="#f1f1f1" stroke-width="0.6" />
<line x1="361.19" y1="35.4" x2="361.19" y2="141.3" stroke="#e2e2e2" stroke-width="0.6" />
<line x1="391.07" y1="35.4" x2="391.07" y2="141.3" stroke="#e2e2e2" stroke-width="0.6" />
<line x1="420.96" y1="35.4" x2="420.96" y2="141.3" stroke="#e2e2e2" stroke-width="0.6" />
<line x1="450.84" y1="35.4" x2="450.84" y2="141.3" stroke="#e2e2e2" stroke-width="0.6" />
<line x1="480.73" y1="35.4" x2="480.73" y2="141.3" stroke="#e2e2e2" stroke-width="0.6" />
<line x1="510.61" y1="35.4" x2="510.61" y2="141.3" stroke="#e2e2e2" stroke-width="0.6" />
<line x1="331.3" y1="120.12" x2="540.5" y2="120.12" stroke="#e2e2e2" stroke-width="0.6" />
<line x1="331.3" y1="98.94" x2="540.5" y2="98.94" stroke="#e2e2e2" stroke-width="0.6" />
<line x1="331.3" y1="77.76" x2="540.5" y2="77.76" stroke="#e2e2e2" stroke-width="0.6" />
<line x1="331.3" y1="56.58" x2="540.5" y2="56.58" stroke="#e2e2e2" stroke-width="0.6" />
<line x1="329.3" y1="141.3" x2="331.3" y2="141.3" stroke="#3a3a3a" stroke-width="0.8" />
<text x="325.3" y="143.1" font-size="7" text-anchor="end" fill="#000" font-weight="bold" font-style="normal" >0</text>
<line x1="329.3" y1="120.12" x2="331.3" y2="120.12" stroke="#3a3a3a" stroke-width="0.8" />
<text x="325.3" y="121.92" font-size="7" text-anchor="end" fill="#000" font-weight="bold" font-style="normal" >10</text>
<line x1="329.3" y1="98.94" x2="331.3" y2="98.94" stroke="#3a3a3a" stroke-width="0.8" />
<text x="325.3" y="100.74" font-size="7" text-anchor="end" fill="#000" font-weight="bold" font-style="normal" >20</text>
<line x1="329.3" y1="77.76" x2="331.3" y2="77.76" stroke="#3a3a3a" stroke-width="0.8" />
<text x="325.3" y="79.56" font-size="7" text-anchor="end" fill="#000" font-weight="bold" font-style="normal" >30</text>
<line x1="329.3" y1="56.58" x2="331.3" y2="56.58" stroke="#3a3a3a" stroke-width="0.8" />
<text x="325.3" y="58.38" font-size="7" text-anchor="end" fill="#000" font-weight="bold" font-style="normal" >40</text>
<line x1="329.3" y1="35.4" x2="331.3" y2="35.4" stroke="#3a3a3a" stroke-width="0.8" />
<text x="325.3" y="37.2" font-size="7" text-anchor="end" fill="#000" font-weight="bold" font-style="normal" >50</text>
<line x1="331.3" y1="141.3" x2="331.3" y2="143.3" stroke="#3a3a3a" stroke-width="0.8" />
<text x="331.3" y="151.4" font-size="7" text-anchor="middle" fill="#000" font-weight="bold" font-style="normal" >-0.3</text>
<line x1="361.19" y1="141.3" x2="361.19" y2="143.3" stroke="#3a3a3a" stroke-width="0.8" />
<text x="361.19" y="151.4" font-size="7" text-anchor="middle" fill="#000" font-weight="bold" font-style="normal" >0.1</text>
<line x1="391.07" y1="141.3" x2="391.07" y2="143.3" stroke="#3a3a3a" stroke-width="0.8" />
<text x="391.07" y="151.4" font-size="7" text-anchor="middle" fill="#000" font-weight="bold" font-style="normal" >0.5</text>
<line x1="420.96" y1="141.3" x2="420.96" y2="143.3" stroke="#3a3a3a" stroke-width="0.8" />
<text x="420.96" y="151.4" font-size="7" text-anchor="middle" fill="#000" font-weight="bold" font-style="normal" >0.9</text>
<line x1="450.84" y1="141.3" x2="450.84" y2="143.3" stroke="#3a3a3a" stroke-width="0.8" />
<text x="450.84" y="151.4" font-size="7" text-anchor="middle" fill="#000" font-weight="bold" font-style="normal" >1.3</text>
<line x1="480.73" y1="141.3" x2="480.73" y2="143.3" stroke="#3a3a3a" stroke-width="0.8" />
<text x="480.73" y="151.4" font-size="7" text-anchor="middle" fill="#000" font-weight="bold" font-style="normal" >1.7</text>
<line x1="510.61" y1="141.3" x2="510.61" y2="143.3" stroke="#3a3a3a" stroke-width="0.8" />
<text x="510.61" y="151.4" font-size="7" text-anchor="middle" fill="#000" font-weight="bold" font-style="normal" >2.1</text>
<line x1="540.5" y1="141.3" x2="540.5" y2="143.3" stroke="#3a3a3a" stroke-width="0.8" />
<text x="540.5" y="151.4" font-size="7" text-anchor="middle" fill="#000" font-weight="bold" font-style="normal" >2.5</text>
<polyline points="361.19,134.1 376.13,121.39 391.07,110.59 406.01,101.27 420.96,92.8 435.9,84.11 450.84,77.12 465.79,67.59" fill="none" stroke="#000" stroke-width="1.15" stroke-dasharray="2,1.2"/>
<polyline points="361.19,134.1 376.13,122.24 391.07,111.65 406.01,102.33 420.96,93.65 435.9,86.23 450.84,79.45 465.79,73.31" fill="none" stroke="#7e3ccc" stroke-width="1.15" stroke-dasharray="2,1.2"/>
<polyline points="361.19,134.31 376.13,122.87 391.07,113.77 406.01,103.81 420.96,96.19 435.9,89.2 450.84,82 465.79,76.07" fill="none" stroke="#ff1010" stroke-width="1.15" stroke-dasharray="2,1.2"/>
<circle cx="361.19" cy="134.1" r="1.5" fill="#fff" stroke="#000" stroke-width="1"/>
<circle cx="376.13" cy="121.39" r="1.5" fill="#fff" stroke="#000" stroke-width="1"/>
<circle cx="391.07" cy="110.59" r="1.5" fill="#fff" stroke="#000" stroke-width="1"/>
<circle cx="406.01" cy="101.27" r="1.5" fill="#fff" stroke="#000" stroke-width="1"/>
<circle cx="420.96" cy="92.8" r="1.5" fill="#fff" stroke="#000" stroke-width="1"/>
<circle cx="435.9" cy="84.11" r="1.5" fill="#fff" stroke="#000" stroke-width="1"/>
<circle cx="450.84" cy="77.12" r="1.5" fill="#fff" stroke="#000" stroke-width="1"/>
<circle cx="465.79" cy="67.59" r="1.5" fill="#fff" stroke="#000" stroke-width="1"/>
<path d="M361.19,132.3 L362.99,135.4 L359.39,135.4 Z" fill="#7e3ccc" stroke="#7e3ccc" stroke-width="0.4"/>
<path d="M376.13,120.44 L377.93,123.54 L374.33,123.54 Z" fill="#7e3ccc" stroke="#7e3ccc" stroke-width="0.4"/>
<path d="M391.07,109.85 L392.87,112.95 L389.27,112.95 Z" fill="#7e3ccc" stroke="#7e3ccc" stroke-width="0.4"/>
<path d="M406.01,100.53 L407.81,103.63 L404.21,103.63 Z" fill="#7e3ccc" stroke="#7e3ccc" stroke-width="0.4"/>
<path d="M420.96,91.85 L422.76,94.95 L419.16,94.95 Z" fill="#7e3ccc" stroke="#7e3ccc" stroke-width="0.4"/>
<path d="M435.9,84.43 L437.7,87.53 L434.1,87.53 Z" fill="#7e3ccc" stroke="#7e3ccc" stroke-width="0.4"/>
<path d="M450.84,77.65 L452.64,80.75 L449.04,80.75 Z" fill="#7e3ccc" stroke="#7e3ccc" stroke-width="0.4"/>
<path d="M465.79,71.51 L467.59,74.61 L463.99,74.61 Z" fill="#7e3ccc" stroke="#7e3ccc" stroke-width="0.4"/>
<rect x="359.69" y="132.81" width="3" height="3" fill="none" stroke="#ff1010" stroke-width="0.9"/>
<rect x="374.63" y="121.37" width="3" height="3" fill="none" stroke="#ff1010" stroke-width="0.9"/>
<rect x="389.57" y="112.27" width="3" height="3" fill="none" stroke="#ff1010" stroke-width="0.9"/>
<rect x="404.51" y="102.31" width="3" height="3" fill="none" stroke="#ff1010" stroke-width="0.9"/>
<rect x="419.46" y="94.69" width="3" height="3" fill="none" stroke="#ff1010" stroke-width="0.9"/>
<rect x="434.4" y="87.7" width="3" height="3" fill="none" stroke="#ff1010" stroke-width="0.9"/>
<rect x="449.34" y="80.5" width="3" height="3" fill="none" stroke="#ff1010" stroke-width="0.9"/>
<rect x="464.29" y="74.57" width="3" height="3" fill="none" stroke="#ff1010" stroke-width="0.9"/>
<rect x="331.3" y="35.4" width="209.2" height="105.9" fill="none" stroke="#3a3a3a" stroke-width="1"/>
<rect x="339.2" y="40.3" width="96.4" height="26" fill="#fff" stroke="#8a8a8a" stroke-width="0.7"/>
<circle cx="346.5" cy="45.1" r="1.2" fill="#fff" stroke="#000" stroke-width="1"/>
<text x="350.2" y="47.4" font-size="6.9" fill="#000">RBCs in plasma (Hct = 30%)</text>
<path d="M346.5,51.7 L348.3,54.8 L344.7,54.8 Z" fill="#7e3ccc" stroke="#7e3ccc" stroke-width="0.4"/>
<text x="350.2" y="55.8" font-size="6.9" fill="#7e3ccc">RBCs in plasma (Hct = 40%)</text>
<rect x="345" y="60.4" width="3" height="3" fill="none" stroke="#ff1010" stroke-width="0.9"/>
<text x="350.2" y="64.2" font-size="6.9" fill="#ff1010">RBCs in plasma (Hct = 50%)</text>
<text transform="translate(314.5,80.3) rotate(-90)" text-anchor="middle" font-size="7.8" font-weight="bold">&lt;<tspan font-style="italic">U</tspan><tspan font-size="5.07" dy="1.5" font-style="italic">B</tspan><tspan dy="-1.5">&gt; (mm/s)</tspan></text>
<text x="418" y="161.5" font-size="7.8" font-weight="bold"><tspan font-style="italic">Q</tspan><tspan font-size="5.07" dy="1.5" font-style="italic">sp</tspan><tspan dy="-1.5"> (mL/h)</tspan></text>
<text x="470" y="55.5" font-size="7" fill="#000">y = -5.0267x<tspan font-size="4.2" dy="-2.4">2</tspan><tspan dy="2.4"> + 30.279x</tspan></text>
<text x="487.8" y="63.6" font-size="6.9" fill="#000" font-weight="bold" font-style="italic">R<tspan font-size="4.14" dy="-2.4">2</tspan><tspan dy="2.4"> = 0.9977</tspan></text>
<text x="470.6" y="75.7" font-size="7" fill="#7e3ccc">y = -6.2618x<tspan font-size="4.2" dy="-2.4">2</tspan><tspan dy="2.4"> + 30.66x</tspan></text>
<text x="486.4" y="82.7" font-size="6.9" fill="#7e3ccc" font-weight="bold" font-style="italic">R<tspan font-size="4.14" dy="-2.4">2</tspan><tspan dy="2.4"> = 0.9987</tspan></text>
<text x="443" y="93.8" font-size="7" fill="#ff1010">y = -5.9164x<tspan font-size="4.2" dy="-2.4">2</tspan><tspan dy="2.4"> + 29.137x</tspan></text>
<text x="460.8" y="102.3" font-size="6.9" fill="#ff1010" font-weight="bold" font-style="italic">R<tspan font-size="4.14" dy="-2.4">2</tspan><tspan dy="2.4"> = 0.9988</tspan></text>
<line x1="54.88" y1="170.3" x2="54.88" y2="276.2" stroke="#f1f1f1" stroke-width="0.6" />
<line x1="60.25" y1="170.3" x2="60.25" y2="276.2" stroke="#f1f1f1" stroke-width="0.6" />
<line x1="65.62" y1="170.3" x2="65.62" y2="276.2" stroke="#f1f1f1" stroke-width="0.6" />
<line x1="76.38" y1="170.3" x2="76.38" y2="276.2" stroke="#f1f1f1" stroke-width="0.6" />
<line x1="81.75" y1="170.3" x2="81.75" y2="276.2" stroke="#f1f1f1" stroke-width="0.6" />
<line x1="87.12" y1="170.3" x2="87.12" y2="276.2" stroke="#f1f1f1" stroke-width="0.6" />
<line x1="97.88" y1="170.3" x2="97.88" y2="276.2" stroke="#f1f1f1" stroke-width="0.6" />
<line x1="103.25" y1="170.3" x2="103.25" y2="276.2" stroke="#f1f1f1" stroke-width="0.6" />
<line x1="108.62" y1="170.3" x2="108.62" y2="276.2" stroke="#f1f1f1" stroke-width="0.6" />
<line x1="119.38" y1="170.3" x2="119.38" y2="276.2" stroke="#f1f1f1" stroke-width="0.6" />
<line x1="124.75" y1="170.3" x2="124.75" y2="276.2" stroke="#f1f1f1" stroke-width="0.6" />
<line x1="130.12" y1="170.3" x2="130.12" y2="276.2" stroke="#f1f1f1" stroke-width="0.6" />
<line x1="140.88" y1="170.3" x2="140.88" y2="276.2" stroke="#f1f1f1" stroke-width="0.6" />
<line x1="146.25" y1="170.3" x2="146.25" y2="276.2" stroke="#f1f1f1" stroke-width="0.6" />
<line x1="151.62" y1="170.3" x2="151.62" y2="276.2" stroke="#f1f1f1" stroke-width="0.6" />
<line x1="162.38" y1="170.3" x2="162.38" y2="276.2" stroke="#f1f1f1" stroke-width="0.6" />
<line x1="167.75" y1="170.3" x2="167.75" y2="276.2" stroke="#f1f1f1" stroke-width="0.6" />
<line x1="173.12" y1="170.3" x2="173.12" y2="276.2" stroke="#f1f1f1" stroke-width="0.6" />
<line x1="183.88" y1="170.3" x2="183.88" y2="276.2" stroke="#f1f1f1" stroke-width="0.6" />
<line x1="189.25" y1="170.3" x2="189.25" y2="276.2" stroke="#f1f1f1" stroke-width="0.6" />
<line x1="194.62" y1="170.3" x2="194.62" y2="276.2" stroke="#f1f1f1" stroke-width="0.6" />
<line x1="205.38" y1="170.3" x2="205.38" y2="276.2" stroke="#f1f1f1" stroke-width="0.6" />
<line x1="210.75" y1="170.3" x2="210.75" y2="276.2" stroke="#f1f1f1" stroke-width="0.6" />
<line x1="216.12" y1="170.3" x2="216.12" y2="276.2" stroke="#f1f1f1" stroke-width="0.6" />
<line x1="226.88" y1="170.3" x2="226.88" y2="276.2" stroke="#f1f1f1" stroke-width="0.6" />
<line x1="232.25" y1="170.3" x2="232.25" y2="276.2" stroke="#f1f1f1" stroke-width="0.6" />
<line x1="237.62" y1="170.3" x2="237.62" y2="276.2" stroke="#f1f1f1" stroke-width="0.6" />
<line x1="248.38" y1="170.3" x2="248.38" y2="276.2" stroke="#f1f1f1" stroke-width="0.6" />
<line x1="253.75" y1="170.3" x2="253.75" y2="276.2" stroke="#f1f1f1" stroke-width="0.6" />
<line x1="259.12" y1="170.3" x2="259.12" y2="276.2" stroke="#f1f1f1" stroke-width="0.6" />
<line x1="49.5" y1="175.59" x2="264.5" y2="175.59" stroke="#f1f1f1" stroke-width="0.6" />
<line x1="49.5" y1="180.89" x2="264.5" y2="180.89" stroke="#f1f1f1" stroke-width="0.6" />
<line x1="49.5" y1="186.19" x2="264.5" y2="186.19" stroke="#f1f1f1" stroke-width="0.6" />
<line x1="49.5" y1="196.78" x2="264.5" y2="196.78" stroke="#f1f1f1" stroke-width="0.6" />
<line x1="49.5" y1="202.07" x2="264.5" y2="202.07" stroke="#f1f1f1" stroke-width="0.6" />
<line x1="49.5" y1="207.37" x2="264.5" y2="207.37" stroke="#f1f1f1" stroke-width="0.6" />
<line x1="49.5" y1="217.95" x2="264.5" y2="217.95" stroke="#f1f1f1" stroke-width="0.6" />
<line x1="49.5" y1="223.25" x2="264.5" y2="223.25" stroke="#f1f1f1" stroke-width="0.6" />
<line x1="49.5" y1="228.54" x2="264.5" y2="228.54" stroke="#f1f1f1" stroke-width="0.6" />
<line x1="49.5" y1="239.13" x2="264.5" y2="239.13" stroke="#f1f1f1" stroke-width="0.6" />
<line x1="49.5" y1="244.43" x2="264.5" y2="244.43" stroke="#f1f1f1" stroke-width="0.6" />
<line x1="49.5" y1="249.72" x2="264.5" y2="249.72" stroke="#f1f1f1" stroke-width="0.6" />
<line x1="49.5" y1="260.31" x2="264.5" y2="260.31" stroke="#f1f1f1" stroke-width="0.6" />
<line x1="49.5" y1="265.61" x2="264.5" y2="265.61" stroke="#f1f1f1" stroke-width="0.6" />
<line x1="49.5" y1="270.9" x2="264.5" y2="270.9" stroke="#f1f1f1" stroke-width="0.6" />
<line x1="71" y1="170.3" x2="71" y2="276.2" stroke="#e2e2e2" stroke-width="0.6" />
<line x1="92.5" y1="170.3" x2="92.5" y2="276.2" stroke="#e2e2e2" stroke-width="0.6" />
<line x1="114" y1="170.3" x2="114" y2="276.2" stroke="#e2e2e2" stroke-width="0.6" />
<line x1="135.5" y1="170.3" x2="135.5" y2="276.2" stroke="#e2e2e2" stroke-width="0.6" />
<line x1="157" y1="170.3" x2="157" y2="276.2" stroke="#e2e2e2" stroke-width="0.6" />
<line x1="178.5" y1="170.3" x2="178.5" y2="276.2" stroke="#e2e2e2" stroke-width="0.6" />
<line x1="200" y1="170.3" x2="200" y2="276.2" stroke="#e2e2e2" stroke-width="0.6" />
<line x1="221.5" y1="170.3" x2="221.5" y2="276.2" stroke="#e2e2e2" stroke-width="0.6" />
<line x1="243" y1="170.3" x2="243" y2="276.2" stroke="#e2e2e2" stroke-width="0.6" />
<line x1="49.5" y1="191.48" x2="264.5" y2="191.48" stroke="#e2e2e2" stroke-width="0.6" />
<line x1="49.5" y1="212.66" x2="264.5" y2="212.66" stroke="#e2e2e2" stroke-width="0.6" />
<line x1="49.5" y1="233.84" x2="264.5" y2="233.84" stroke="#e2e2e2" stroke-width="0.6" />
<line x1="49.5" y1="255.02" x2="264.5" y2="255.02" stroke="#e2e2e2" stroke-width="0.6" />
<line x1="47.5" y1="170.3" x2="49.5" y2="170.3" stroke="#3a3a3a" stroke-width="0.8" />
<line x1="264.5" y1="170.3" x2="266.5" y2="170.3" stroke="#3a3a3a" stroke-width="0.8" />
<line x1="47.5" y1="191.48" x2="49.5" y2="191.48" stroke="#3a3a3a" stroke-width="0.8" />
<line x1="264.5" y1="191.48" x2="266.5" y2="191.48" stroke="#3a3a3a" stroke-width="0.8" />
<line x1="47.5" y1="212.66" x2="49.5" y2="212.66" stroke="#3a3a3a" stroke-width="0.8" />
<line x1="264.5" y1="212.66" x2="266.5" y2="212.66" stroke="#3a3a3a" stroke-width="0.8" />
<line x1="47.5" y1="233.84" x2="49.5" y2="233.84" stroke="#3a3a3a" stroke-width="0.8" />
<line x1="264.5" y1="233.84" x2="266.5" y2="233.84" stroke="#3a3a3a" stroke-width="0.8" />
<line x1="47.5" y1="255.02" x2="49.5" y2="255.02" stroke="#3a3a3a" stroke-width="0.8" />
<line x1="264.5" y1="255.02" x2="266.5" y2="255.02" stroke="#3a3a3a" stroke-width="0.8" />
<line x1="47.5" y1="276.2" x2="49.5" y2="276.2" stroke="#3a3a3a" stroke-width="0.8" />
<line x1="264.5" y1="276.2" x2="266.5" y2="276.2" stroke="#3a3a3a" stroke-width="0.8" />
<line x1="49.5" y1="276.2" x2="49.5" y2="278.2" stroke="#3a3a3a" stroke-width="0.8" />
<line x1="71" y1="276.2" x2="71" y2="278.2" stroke="#3a3a3a" stroke-width="0.8" />
<line x1="92.5" y1="276.2" x2="92.5" y2="278.2" stroke="#3a3a3a" stroke-width="0.8" />
<line x1="114" y1="276.2" x2="114" y2="278.2" stroke="#3a3a3a" stroke-width="0.8" />
<line x1="135.5" y1="276.2" x2="135.5" y2="278.2" stroke="#3a3a3a" stroke-width="0.8" />
<line x1="157" y1="276.2" x2="157" y2="278.2" stroke="#3a3a3a" stroke-width="0.8" />
<line x1="178.5" y1="276.2" x2="178.5" y2="278.2" stroke="#3a3a3a" stroke-width="0.8" />
<line x1="200" y1="276.2" x2="200" y2="278.2" stroke="#3a3a3a" stroke-width="0.8" />
<line x1="221.5" y1="276.2" x2="221.5" y2="278.2" stroke="#3a3a3a" stroke-width="0.8" />
<line x1="243" y1="276.2" x2="243" y2="278.2" stroke="#3a3a3a" stroke-width="0.8" />
<line x1="264.5" y1="276.2" x2="264.5" y2="278.2" stroke="#3a3a3a" stroke-width="0.8" />
<text x="42.1" y="172.1" font-size="7" text-anchor="end" fill="#000" font-weight="bold" font-style="normal" >50</text>
<text x="269.9" y="172.1" font-size="7" text-anchor="start" fill="#1c1cff" font-weight="bold" font-style="normal" >2.3</text>
<text x="42.1" y="193.28" font-size="7" text-anchor="end" fill="#000" font-weight="bold" font-style="normal" >40</text>
<text x="269.9" y="193.28" font-size="7" text-anchor="start" fill="#1c1cff" font-weight="bold" font-style="normal" >1.5</text>
<text x="42.1" y="214.46" font-size="7" text-anchor="end" fill="#000" font-weight="bold" font-style="normal" >30</text>
<text x="269.9" y="214.46" font-size="7" text-anchor="start" fill="#1c1cff" font-weight="bold" font-style="normal" >0.7</text>
<text x="42.1" y="235.64" font-size="7" text-anchor="end" fill="#000" font-weight="bold" font-style="normal" >20</text>
<text x="269.9" y="235.64" font-size="7" text-anchor="start" fill="#1c1cff" font-weight="bold" font-style="normal" >-0.1</text>
<text x="42.1" y="256.82" font-size="7" text-anchor="end" fill="#000" font-weight="bold" font-style="normal" >10</text>
<text x="269.9" y="256.82" font-size="7" text-anchor="start" fill="#1c1cff" font-weight="bold" font-style="normal" >-0.9</text>
<text x="42.1" y="278" font-size="7" text-anchor="end" fill="#000" font-weight="bold" font-style="normal" >0</text>
<text x="269.9" y="278" font-size="7" text-anchor="start" fill="#1c1cff" font-weight="bold" font-style="normal" >-1.7</text>
<text x="49.5" y="286.3" font-size="7" text-anchor="middle" fill="#000" font-weight="bold" font-style="normal" >-480</text>
<text x="71" y="286.3" font-size="7" text-anchor="middle" fill="#000" font-weight="bold" font-style="normal" >0</text>
<text x="92.5" y="286.3" font-size="7" text-anchor="middle" fill="#000" font-weight="bold" font-style="normal" >480</text>
<text x="114" y="286.3" font-size="7" text-anchor="middle" fill="#000" font-weight="bold" font-style="normal" >960</text>
<text x="135.5" y="286.3" font-size="7" text-anchor="middle" fill="#000" font-weight="bold" font-style="normal" >1440</text>
<text x="157" y="286.3" font-size="7" text-anchor="middle" fill="#000" font-weight="bold" font-style="normal" >1920</text>
<text x="178.5" y="286.3" font-size="7" text-anchor="middle" fill="#000" font-weight="bold" font-style="normal" >2400</text>
<text x="200" y="286.3" font-size="7" text-anchor="middle" fill="#000" font-weight="bold" font-style="normal" >2880</text>
<text x="221.5" y="286.3" font-size="7" text-anchor="middle" fill="#000" font-weight="bold" font-style="normal" >3360</text>
<text x="243" y="286.3" font-size="7" text-anchor="middle" fill="#000" font-weight="bold" font-style="normal" >3840</text>
<text x="264.5" y="286.3" font-size="7" text-anchor="middle" fill="#000" font-weight="bold" font-style="normal" >4320</text>
<polyline points="71,191.48 92.5,191.48 92.5,196.78 114,196.78 114,202.07 135.5,202.07 135.5,207.37 157,207.37 157,212.66 178.5,212.66 178.5,217.95 200,217.95 200,223.25 221.5,223.25 221.5,228.54 243,228.54" fill="none" stroke="#1c1cff" stroke-width="1.3"/>
<polyline points="71,195.89 71.4,203.25 71.8,196.81 72.2,201.58 72.6,198.25 73,202.78 73.4,196.85 73.8,203.07 74.2,197.14 74.6,203.1 75,197.44 75.4,203.19 75.8,196.08 76.2,202.04 76.6,196.65 77,202.84 77.4,197.68 77.8,202.45 78.2,195.86 78.6,201.6 79,195.86 79.4,202.85 79.8,195.74 80.2,201.8 80.6,197.97 81,203.19 81.4,195.86 81.8,202.13 82.2,197.97 82.6,201.39 83,196.36 83.4,201.67 83.8,195.42 84.2,202.56 84.6,197.65 85,202.76 85.4,197.18 85.8,203.58 86.2,195.54 86.6,202.34 87,196.33 87.4,202.88 87.8,195.85 88.2,203.71 88.6,198.17 89,201.88 89.4,196.46 89.8,201.71 90.2,196.5 90.6,201.07 91,195.63 91.4,202.37 91.8,197.9 92.2,202.78 92.6,198.34 93,205.05 93.4,202.11 93.8,207.04 94.2,204.07 94.6,209.67 95,203.04 95.4,207.47 95.8,202.92 96.2,207.53 96.6,204.18 97,210.01 97.4,203.39 97.8,208.35 98.2,204.06 98.6,208.58 99,204.76 99.4,210.28 99.8,204.96 100.2,208.67 100.6,203.04 101,208.6 101.4,202.39 101.8,208.18 102.2,202.39 102.6,209.98 103,203.25 103.4,209.97 103.8,203.87 104.2,209.81 104.6,202.9 105,208.93 105.4,203.81 105.8,209.46 106.2,203.98 106.6,207.74 107,203.04 107.4,208.24 107.8,203.76 108.2,209.68 108.6,204.64 109,207.56 109.4,204.77 109.8,209.14 110.2,204.11 110.6,208.21 111,203.86 111.4,210.08 111.8,204.41 112.2,208.64 112.6,202.67 113,209.2 113.4,204.37 113.8,208.82 114.2,206.63 114.6,214.05 115,212.36 115.4,217.23 115.8,212.81 116.2,218.04 116.6,213.6 117,219.87 117.4,213.07 117.8,218.45 118.2,213.9 118.6,218.33 119,214.42 119.4,218.75 119.8,213.44 120.2,219.86 120.6,214.69 121,217.55 121.4,214.29 121.8,217.68 122.2,215.33 122.6,219.46 123,215.13 123.4,219.32 123.8,214.51 124.2,219.87 124.6,213.29 125,217.69 125.4,214.93 125.8,219.89 126.2,213.88 126.6,218.58 127,213.47 127.4,219.56 127.8,214.19 128.2,218.7 128.6,215.16 129,218.44 129.4,215.05 129.8,219.09 130.2,213.9 130.6,217.89 131,213.85 131.4,217.78 131.8,215.15 132.2,219.14 132.6,214.26 133,219.77 133.4,213.85 133.8,219.28 134.2,215.09 134.6,219.6 135,215.2 135.4,219.07 135.8,216.41 136.2,225.13 136.6,220.28 137,225.97 137.4,221.8 137.8,227.26 138.2,223.35 138.6,227.75 139,221.7 139.4,226.67 139.8,222.02 140.2,226.69 140.6,223.15 141,227.29 141.4,223.63 141.8,227.49 142.2,221.58 142.6,226.34 143,221.66 143.4,225.88 143.8,221.85 144.2,226.32 144.6,221.6 145,226.66 145.4,221.7 145.8,225.77 146.2,223.58 146.6,227.52 147,222.34 147.4,226.89 147.8,223.7 148.2,226.08 148.6,222.94 149,225.81 149.4,221.54 149.8,227.41 150.2,221.64 150.6,227.26 151,223 151.4,225.87 151.8,222.13 152.2,225.95 152.6,222.54 153,226.73 153.4,222.66 153.8,225.86 154.2,223.61 154.6,226.86 155,223.7 155.4,226.87 155.8,223.43 156.2,226.33 156.6,223.43 157,226.97 157.4,227.4 157.8,232.78 158.2,231.37 158.6,235.3 159,231.01 159.4,235.52 159.8,232.78 160.2,235.46 160.6,232.7 161,236.01 161.4,231.65 161.8,236.01 162.2,232.83 162.6,235.54 163,232.46 163.4,235.76 163.8,232.42 164.2,236.86 164.6,232.12 165,236.2 165.4,231.8 165.8,236.17 166.2,231.62 166.6,235.63 167,231.89 167.4,236.81 167.8,232.88 168.2,236.13 168.6,232.45 169,235.02 169.4,233.13 169.8,236.39 170.2,232.98 170.6,236.3 171,233.01 171.4,235.62 171.8,233.14 172.2,235.97 172.6,231.66 173,235.34 173.4,232.09 173.8,236.71 174.2,232.63 174.6,235.82 175,231.78 175.4,236.6 175.8,232.87 176.2,236.2 176.6,232.97 177,235.12 177.4,231.27 177.8,234.99 178.2,231.39 178.6,237.79 179,237.52 179.4,243.66 179.8,240.9 180.2,244.56 180.6,242.18 181,244.88 181.4,241.74 181.8,245.99 182.2,241.93 182.6,245.07 183,242.28 183.4,245.15 183.8,241.96 184.2,245.98 184.6,241.61 185,245.92 185.4,242.14 185.8,246.03 186.2,243.13 186.6,245.73 187,243.23 187.4,245.34 187.8,243.09 188.2,246.32 188.6,243.24 189,246.27 189.4,241.69 189.8,245.46 190.2,241.89 190.6,244.81 191,243.05 191.4,244.74 191.8,243.17 192.2,244.73 192.6,241.89 193,244.87 193.4,242.29 193.8,245.19 194.2,243.06 194.6,245.43 195,242.98 195.4,246.37 195.8,242.64 196.2,245.72 196.6,242.34 197,245.78 197.4,242.48 197.8,245.18 198.2,243.06 198.6,246.22 199,242.96 199.4,245.48 199.8,241.93 200.2,248.84 200.6,249.29 201,255.2 201.4,253.3 201.8,255.94 202.2,254.14 202.6,256.89 203,254.04 203.4,257.1 203.8,254.34 204.2,257.51 204.6,254.66 205,257.56 205.4,254.09 205.8,256.64 206.2,254.07 206.6,257.6 207,254.15 207.4,256.89 207.8,254.96 208.2,256.62 208.6,254.8 209,257.58 209.4,254.81 209.8,256.45 210.2,254.89 210.6,256.55 211,254.46 211.4,257.46 211.8,254.06 212.2,256.56 212.6,254.79 213,256.61 213.4,254.08 213.8,257.56 214.2,254.6 214.6,257.71 215,254.6 215.4,257.48 215.8,254.64 216.2,256.93 216.6,253.97 217,257.56 217.4,254.51 217.8,257.6 218.2,254.43 218.6,257.5 219,255.21 219.4,256.61 219.8,255.15 220.2,257.24 220.6,254.34 221,256.65 221.4,254.62 221.8,261.27 222.2,263.06 222.6,267.45 223,266.7 223.4,269.15 223.8,266.97 224.2,268.73 224.6,267.52 225,268.89 225.4,267.22 225.8,269.66 226.2,267.77 226.6,268.95 227,267.34 227.4,269.61 227.8,267.23 228.2,269.22 228.6,267.84 229,269.37 229.4,267.51 229.8,269.56 230.2,267.39 230.6,269.49 231,267.01 231.4,269.39 231.8,267.06 232.2,269.04 232.6,267.95 233,269.63 233.4,267.92 233.8,269.74 234.2,267.51 234.6,268.84 235,267.68 235.4,269.48 235.8,267.58 236.2,269.38 236.6,267.85 237,269.59 237.4,267.59 237.8,269.59 238.2,267.8 238.6,269.43 239,267.49 239.4,269.17 239.8,267.93 240.2,269.29 240.6,267.13 241,268.88 241.4,267.52 241.8,268.79 242.2,266.98 242.6,269.72 243,267.29" fill="none" stroke="#1e1e1e" stroke-width="0.5" stroke-linejoin="round"/>
<circle cx="82.7" cy="217.7" r="0.55" fill="#9a7ab8"/>
<circle cx="82.7" cy="223.8" r="0.55" fill="#9a7ab8"/>
<circle cx="98.8" cy="222.6" r="0.55" fill="#b090d0"/>
<circle cx="98.8" cy="226.2" r="0.55" fill="#b090d0"/>
<polyline points="71,204.04 71.3,205.7 71.6,203.91 71.9,205.85 72.2,203.95 72.5,205.83 72.8,204.48 73.1,205.49 73.4,203.8 73.7,205.63 74,203.83 74.3,205.23 74.6,204.15 74.9,205.33 75.2,204.1 75.5,205.57 75.8,204.49 76.1,205.31 76.4,204.29 76.7,205.83 77,203.93 77.3,205.26 77.6,203.91 77.9,205.25 78.2,204.04 78.5,205.24 78.8,204.5 79.1,205.8 79.4,204.35 79.7,205.3 80,203.77 80.3,205.8 80.6,204.29 80.9,205.86 81.2,204.1 81.5,205.65 81.8,204.35 82.1,205.85 82.4,203.99 82.7,205.87 83,203.83 83.3,205.37 83.6,204.23 83.9,205.27 84.2,204.39 84.5,205.19 84.8,204.28 85.1,205.59 85.4,204.5 85.7,205.65 86,204.25 86.3,205.38 86.6,203.89 86.9,205.5 87.2,204.27 87.5,205.5 87.8,203.98 88.1,205.19 88.4,203.77 88.7,205.16 89,203.94 89.3,205.78 89.6,204.49 89.9,205.73 90.2,204.23 90.5,205.58 90.8,204.5 91.1,205.18 91.4,204.37 91.7,205.86 92,204.36 92.3,205.71 92.6,204.66 92.9,208.53 93.2,208.1 93.5,209.95 93.8,209.13 94.1,210.97 94.4,209.88 94.7,211.22 95,209.55 95.3,211.41 95.6,210.16 95.9,211.51 96.2,210.15 96.5,211.09 96.8,209.78 97.1,211.51 97.4,209.98 97.7,211.52 98,209.84 98.3,211.08 98.6,210 98.9,210.98 99.2,210.18 99.5,210.96 99.8,209.73 100.1,211.57 100.4,210.12 100.7,210.89 101,209.52 101.3,211.24 101.6,209.94 101.9,211.02 102.2,209.8 102.5,211.45 102.8,209.9 103.1,211.16 103.4,210.19 103.7,211.51 104,210.21 104.3,211.21 104.6,209.63 104.9,210.95 105.2,209.7 105.5,211.54 105.8,209.78 106.1,211.42 106.4,210.15 106.7,211.17 107,210.12 107.3,211.46 107.6,210.02 107.9,211.18 108.2,209.51 108.5,211.47 108.8,209.53 109.1,211.18 109.4,209.88 109.7,211.38 110,209.89 110.3,211.06 110.6,209.94 110.9,210.96 111.2,209.96 111.5,211.57 111.8,209.54 112.1,211.31 112.4,209.87 112.7,211.1 113,210.17 113.3,211.05 113.6,209.67 113.9,211.48 114.2,212 114.5,215.47 114.8,215.04 115.1,217.46 115.4,216.4 115.7,218.29 116,217.1 116.3,218.55 116.6,217.35 116.9,218.52 117.2,217.08 117.5,218.7 117.8,217.44 118.1,218.9 118.4,217.2 118.7,218.65 119,217.65 119.3,218.63 119.6,217.48 119.9,218.72 120.2,217.34 120.5,218.82 120.8,217.21 121.1,218.8 121.4,217.42 121.7,218.7 122,217.15 122.3,218.82 122.6,217.42 122.9,218.83 123.2,217.06 123.5,218.73 123.8,216.98 124.1,218.91 124.4,217.3 124.7,218.62 125,217.54 125.3,218.83 125.6,217.01 125.9,218.58 126.2,217.18 126.5,218.75 126.8,217.15 127.1,218.37 127.4,217.12 127.7,218.65 128,217.2 128.3,218.54 128.6,217.23 128.9,218.79 129.2,217.22 129.5,218.75 129.8,217.64 130.1,218.36 130.4,217.35 130.7,218.7 131,217.51 131.3,218.73 131.6,217.22 131.9,218.28 132.2,217.33 132.5,218.41 132.8,217.62 133.1,218.34 133.4,217.44 133.7,218.38 134,217.52 134.3,218.28 134.6,217.34 134.9,218.51 135.2,217.24 135.5,218.66 135.8,220.56 136.1,223.81 136.4,223.8 136.7,225.37 137,224.8 137.3,226.1 137.6,225.36 137.9,226.66 138.2,225.37 138.5,226.24 138.8,225.28 139.1,226.32 139.4,225.35 139.7,226.5 140,225.33 140.3,226.91 140.6,225.18 140.9,226.56 141.2,225.19 141.5,226.71 141.8,225.48 142.1,226.38 142.4,225.33 142.7,226.66 143,225.09 143.3,226.92 143.6,225.32 143.9,226.52 144.2,225.13 144.5,226.29 144.8,225.65 145.1,226.66 145.4,225.32 145.7,226.38 146,225.31 146.3,226.87 146.6,225.47 146.9,226.57 147.2,225.57 147.5,226.48 147.8,225.08 148.1,226.54 148.4,225.09 148.7,226.89 149,225.33 149.3,226.46 149.6,225.08 149.9,226.61 150.2,225.45 150.5,226.5 150.8,225.07 151.1,226.61 151.4,225.53 151.7,226.6 152,225.64 152.3,226.69 152.6,225.43 152.9,226.48 153.2,225.21 153.5,226.83 153.8,225.71 154.1,226.64 154.4,225.54 154.7,226.9 155,225.21 155.3,226.45 155.6,225.55 155.9,226.39 156.2,225.07 156.5,226.48 156.8,225.32 157.1,227.9 157.4,229.51 157.7,232.64 158,232.36 158.3,234.12 158.6,233.46 158.9,234.92 159.2,234.04 159.5,235.21 159.8,234.35 160.1,235.43 160.4,234.31 160.7,235.36 161,234.16 161.3,235.52 161.6,234.6 161.9,235.32 162.2,234.35 162.5,235.73 162.8,234.08 163.1,235.5 163.4,234.62 163.7,235.65 164,234.37 164.3,235.52 164.6,234.19 164.9,235.56 165.2,234.33 165.5,235.73 165.8,234.39 166.1,235.41 166.4,234.11 166.7,235.29 167,234.45 167.3,235.68 167.6,234.59 167.9,235.68 168.2,234.2 168.5,235.43 168.8,234.46 169.1,235.65 169.4,234.07 169.7,235.25 170,234.34 170.3,235.51 170.6,234.32 170.9,235.37 171.2,234.54 171.5,235.53 171.8,234.13 172.1,235.21 172.4,234.49 172.7,235.67 173,234.14 173.3,235.58 173.6,234.62 173.9,235.61 174.2,234.03 174.5,235.78 174.8,234.2 175.1,235.2 175.4,234.11 175.7,235.3 176,234.23 176.3,235.76 176.6,234.19 176.9,235.25 177.2,234.45 177.5,235.73 177.8,234.54 178.1,235.54 178.4,234.38 178.7,238.03 179,239.86 179.3,242.5 179.6,242.99 179.9,244.44 180.2,244.1 180.5,244.93 180.8,244.23 181.1,245.58 181.4,244.21 181.7,245.33 182,244.53 182.3,245.47 182.6,244.46 182.9,245.59 183.2,244.27 183.5,245.53 183.8,244.78 184.1,245.71 184.4,244.73 184.7,245.68 185,244.53 185.3,245.84 185.6,244.5 185.9,245.67 186.2,244.67 186.5,245.63 186.8,244.67 187.1,245.75 187.4,244.52 187.7,245.39 188,244.68 188.3,245.53 188.6,244.39 188.9,245.42 189.2,244.41 189.5,245.69 189.8,244.77 190.1,245.7 190.4,244.77 190.7,245.38 191,244.48 191.3,245.45 191.6,244.31 191.9,245.59 192.2,244.63 192.5,245.77 192.8,244.8 193.1,245.73 193.4,244.79 193.7,245.4 194,244.27 194.3,245.71 194.6,244.69 194.9,245.38 195.2,244.26 195.5,245.7 195.8,244.34 196.1,245.39 196.4,244.46 196.7,245.52 197,244.68 197.3,245.5 197.6,244.46 197.9,245.51 198.2,244.6 198.5,245.39 198.8,244.34 199.1,245.69 199.4,244.35 199.7,245.56 200,244.33 200.3,249.94 200.6,251.55 200.9,254.32 201.2,254.19 201.5,255.9 201.8,255.58 202.1,256.35 202.4,255.92 202.7,256.6 203,255.71 203.3,256.92 203.6,255.84 203.9,256.71 204.2,256.01 204.5,257.19 204.8,255.94 205.1,256.95 205.4,256.03 205.7,256.78 206,256.19 206.3,256.81 206.6,256.08 206.9,256.93 207.2,255.81 207.5,256.81 207.8,256.14 208.1,256.88 208.4,256.19 208.7,256.88 209,256.15 209.3,256.98 209.6,256.26 209.9,257.22 210.2,256.08 210.5,257.22 210.8,255.91 211.1,257.09 211.4,256.03 211.7,257.23 212,256.21 212.3,257.08 212.6,256.12 212.9,257.09 213.2,255.89 213.5,256.82 213.8,256.17 214.1,256.74 214.4,256.15 214.7,256.77 215,256.06 215.3,257.24 215.6,256.08 215.9,256.89 216.2,256.03 216.5,256.88 216.8,255.89 217.1,257.11 217.4,256.19 217.7,256.86 218,255.92 218.3,257.23 218.6,255.93 218.9,256.96 219.2,255.76 219.5,256.73 219.8,256.24 220.1,257.14 220.4,256.06 220.7,256.75 221,255.99 221.3,257.25 221.6,257.82 221.9,262.69 222.2,264.51 222.5,266.54 222.8,266.6 223.1,268.27 223.4,267.54 223.7,268.65 224,268.24 224.3,268.87 224.6,268.31 224.9,268.97 225.2,268.43 225.5,269.16 225.8,268.42 226.1,269.01 226.4,268.56 226.7,269.45 227,268.5 227.3,269.23 227.6,268.39 227.9,269.24 228.2,268.54 228.5,269.14 228.8,268.53 229.1,269.25 229.4,268.14 229.7,269.28 230,268.17 230.3,269.09 230.6,268.57 230.9,269.25 231.2,268.35 231.5,269.26 231.8,268.4 232.1,269.29 232.4,268.24 232.7,269.43 233,268.44 233.3,269.2 233.6,268.19 233.9,269.1 234.2,268.53 234.5,269.14 234.8,268.54 235.1,269.36 235.4,268.19 235.7,269.14 236,268.52 236.3,269.03 236.6,268.47 236.9,269.03 237.2,268.38 237.5,269.27 237.8,268.47 238.1,269.02 238.4,268.25 238.7,269.01 239,268.49 239.3,269.13 239.6,268.4 239.9,269.04 240.2,268.38 240.5,269.14 240.8,268.22 241.1,269.26 241.4,268.16 241.7,269.3 242,268.22 242.3,269.26 242.6,268.37 242.9,269.38" fill="none" stroke="#7e3ccc" stroke-width="1.7" stroke-linejoin="round"/>
<polyline points="71,208.95 71.3,210.29 71.6,208.77 71.9,210.35 72.2,209.14 72.5,210.62 72.8,208.19 73.1,211.07 73.4,208.36 73.7,210.42 74,208.61 74.3,210.48 74.6,209.02 74.9,210.29 75.2,208.97 75.5,211.21 75.8,208.29 76.1,211.08 76.4,208.32 76.7,210.39 77,208.87 77.3,210.88 77.6,208.4 77.9,211.13 78.2,208.23 78.5,210.27 78.8,208.54 79.1,210.93 79.4,208.65 79.7,210.37 80,208.68 80.3,210.27 80.6,208.17 80.9,211.14 81.2,208.6 81.5,210.51 81.8,208.2 82.1,210.82 82.4,208.23 82.7,211.12 83,208.65 83.3,210.64 83.6,208.54 83.9,210.66 84.2,209.03 84.5,210.52 84.8,208.3 85.1,210.22 85.4,209.16 85.7,210.88 86,208.9 86.3,210.77 86.6,208.69 86.9,210.56 87.2,208.1 87.5,210.39 87.8,208.75 88.1,210.4 88.4,208.51 88.7,210.48 89,208.82 89.3,211.01 89.6,208.86 89.9,210.8 90.2,208.2 90.5,210.29 90.8,209.15 91.1,210.43 91.4,208.36 91.7,210.86 92,208.95 92.3,210.55 92.6,209.9 92.9,213.46 93.2,213.17 93.5,215.63 93.8,213.46 94.1,216.64 94.4,214.1 94.7,216.93 95,215.04 95.3,216.32 95.6,214.1 95.9,216.88 96.2,214.72 96.5,217.08 96.8,214.5 97.1,216.95 97.4,214.85 97.7,216.28 98,214.7 98.3,216.23 98.6,214.76 98.9,217.11 99.2,214.82 99.5,216.09 99.8,215.12 100.1,216.26 100.4,214.33 100.7,216.47 101,214.86 101.3,216.18 101.6,214.12 101.9,216.53 102.2,214.95 102.5,216.14 102.8,215.11 103.1,216.26 103.4,214.45 103.7,216.24 104,215.13 104.3,216.6 104.6,214.9 104.9,217.14 105.2,215.04 105.5,216.64 105.8,214.35 106.1,216.52 106.4,214.12 106.7,216.59 107,214.91 107.3,216.52 107.6,215.13 107.9,216.53 108.2,214.9 108.5,217.03 108.8,214.28 109.1,216.61 109.4,215.14 109.7,216.35 110,214.91 110.3,216.3 110.6,214.92 110.9,217.01 111.2,215.02 111.5,216.14 111.8,214.18 112.1,216.68 112.4,214.11 112.7,216.51 113,214.21 113.3,216.78 113.6,214.33 113.9,216.87 114.2,216.63 114.5,220.12 114.8,220.17 115.1,222.89 115.4,220.72 115.7,223.7 116,221.76 116.3,223.73 116.6,221.49 116.9,223.82 117.2,221.54 117.5,223.75 117.8,221.73 118.1,223.93 118.4,222.12 118.7,224.17 119,221.44 119.3,223.33 119.6,221.43 119.9,224.21 120.2,221.73 120.5,223.3 120.8,221.5 121.1,223.38 121.4,221.43 121.7,223.92 122,222.34 122.3,223.42 122.6,221.77 122.9,223.82 123.2,221.65 123.5,224.18 123.8,222.18 124.1,223.26 124.4,221.48 124.7,223.27 125,221.52 125.3,223.37 125.6,221.59 125.9,224.03 126.2,221.52 126.5,223.8 126.8,221.52 127.1,223.46 127.4,221.73 127.7,223.58 128,221.51 128.3,224.03 128.6,221.93 128.9,223.78 129.2,222.37 129.5,223.29 129.8,221.81 130.1,223.74 130.4,221.54 130.7,223.86 131,222.26 131.3,223.62 131.6,221.63 131.9,223.78 132.2,222.39 132.5,224.09 132.8,221.57 133.1,223.34 133.4,221.86 133.7,223.63 134,221.61 134.3,223.56 134.6,222.17 134.9,223.74 135.2,221.43 135.5,223.35 135.8,225.12 136.1,228.39 136.4,227.23 136.7,230.03 137,228.76 137.3,231.02 137.6,228.86 137.9,230.54 138.2,228.92 138.5,230.76 138.8,229.52 139.1,231.39 139.4,229.43 139.7,231.37 140,229.68 140.3,231.45 140.6,229.68 140.9,230.77 141.2,229.38 141.5,230.95 141.8,229.34 142.1,231.48 142.4,229.18 142.7,230.64 143,229.55 143.3,231.14 143.6,229.39 143.9,231.3 144.2,229.39 144.5,230.71 144.8,229.61 145.1,231.42 145.4,229.51 145.7,231.35 146,228.93 146.3,231.22 146.6,229.21 146.9,231.2 147.2,229.55 147.5,231.48 147.8,229.41 148.1,231.48 148.4,229.56 148.7,231.44 149,229.11 149.3,231.21 149.6,229.43 149.9,230.77 150.2,229.13 150.5,230.97 150.8,229.23 151.1,230.76 151.4,229.76 151.7,230.77 152,229.09 152.3,230.8 152.6,229 152.9,230.98 153.2,229.31 153.5,230.96 153.8,229.27 154.1,230.72 154.4,229.47 154.7,231.51 155,229.67 155.3,231.24 155.6,229.54 155.9,230.92 156.2,229.82 156.5,230.66 156.8,228.96 157.1,232.55 157.4,232.84 157.7,236.6 158,235.28 158.3,237.6 158.6,236.59 158.9,238.49 159.2,236.98 159.5,239.1 159.8,236.97 160.1,239.22 160.4,237.57 160.7,238.98 161,237.12 161.3,239.07 161.6,237.18 161.9,239.15 162.2,237.45 162.5,239.24 162.8,237.36 163.1,238.95 163.4,236.94 163.7,239.04 164,237.44 164.3,238.64 164.6,237.43 164.9,238.98 165.2,236.86 165.5,239.21 165.8,237.37 166.1,238.79 166.4,237.01 166.7,238.69 167,237.36 167.3,238.45 167.6,237.55 167.9,238.9 168.2,237.12 168.5,238.97 168.8,237.4 169.1,239.26 169.4,237.18 169.7,238.58 170,237.65 170.3,239.28 170.6,236.86 170.9,239.23 171.2,237.19 171.5,238.71 171.8,237.63 172.1,238.66 172.4,237.52 172.7,239.24 173,236.95 173.3,239.11 173.6,237.58 173.9,238.65 174.2,237.45 174.5,239.25 174.8,237.57 175.1,239.12 175.4,237.13 175.7,238.91 176,236.89 176.3,238.67 176.6,237.26 176.9,238.58 177.2,237.63 177.5,238.47 177.8,237.44 178.1,238.55 178.4,237.66 178.7,241.86 179,242.73 179.3,245.99 179.6,245.07 179.9,247.49 180.2,246.14 180.5,248.28 180.8,246.36 181.1,248.34 181.4,246.75 181.7,248.41 182,246.69 182.3,248.34 182.6,246.88 182.9,248.05 183.2,246.63 183.5,248.3 183.8,247.22 184.1,248.06 184.4,246.61 184.7,248.13 185,246.98 185.3,248.46 185.6,246.62 185.9,248.19 186.2,246.98 186.5,248.26 186.8,247.26 187.1,248.61 187.4,247.26 187.7,248.67 188,247.16 188.3,248.06 188.6,246.63 188.9,248.57 189.2,247.1 189.5,248.36 189.8,246.91 190.1,248.49 190.4,247.14 190.7,248.57 191,246.51 191.3,248.48 191.6,246.57 191.9,248.65 192.2,246.99 192.5,248.59 192.8,246.64 193.1,248.39 193.4,247.2 193.7,248.41 194,246.58 194.3,248.17 194.6,246.78 194.9,248.62 195.2,246.82 195.5,247.96 195.8,246.79 196.1,248.13 196.4,246.62 196.7,248.44 197,247.04 197.3,248.62 197.6,246.8 197.9,248.2 198.2,246.64 198.5,248.62 198.8,246.59 199.1,248.61 199.4,246.77 199.7,248.47 200,246.81 200.3,252.41 200.6,253.26 200.9,256.38 201.2,256.47 201.5,258.19 201.8,257.17 202.1,258.68 202.4,257.49 202.7,258.72 203,257.9 203.3,258.69 203.6,257.57 203.9,259.28 204.2,257.65 204.5,258.76 204.8,257.47 205.1,259.24 205.4,257.78 205.7,258.69 206,257.56 206.3,259.11 206.6,257.71 206.9,258.71 207.2,257.63 207.5,258.72 207.8,257.8 208.1,258.79 208.4,257.88 208.7,259.29 209,257.62 209.3,259.24 209.6,257.92 209.9,258.95 210.2,257.72 210.5,258.72 210.8,257.85 211.1,259.34 211.4,257.62 211.7,259.27 212,257.92 212.3,259.15 212.6,257.6 212.9,259.16 213.2,257.83 213.5,258.81 213.8,258.11 214.1,259.29 214.4,257.5 214.7,258.88 215,257.62 215.3,258.97 215.6,257.71 215.9,259.26 216.2,257.91 216.5,259.11 216.8,257.95 217.1,259.03 217.4,258.1 217.7,258.87 218,257.93 218.3,259.3 218.6,258.04 218.9,259.2 219.2,258.07 219.5,259.35 219.8,258.01 220.1,258.76 220.4,257.98 220.7,259.32 221,257.68 221.3,259.29 221.6,259.43 221.9,263.94 222.2,265.36 222.5,267.7 222.8,267.22 223.1,268.9 223.4,268.51 223.7,269.81 224,268.91 224.3,270.09 224.6,268.93 224.9,269.94 225.2,268.78 225.5,270.16 225.8,269.13 226.1,270.13 226.4,269.08 226.7,270.07 227,269.16 227.3,270.09 227.6,269.08 227.9,269.78 228.2,269.16 228.5,269.85 228.8,269 229.1,270.22 229.4,268.84 229.7,269.87 230,268.62 230.3,269.76 230.6,269.06 230.9,270.2 231.2,268.64 231.5,270.05 231.8,268.63 232.1,269.7 232.4,268.67 232.7,270.06 233,268.8 233.3,270.14 233.6,269.12 233.9,269.78 234.2,269.1 234.5,269.93 234.8,268.87 235.1,269.97 235.4,268.98 235.7,270.08 236,268.71 236.3,270.09 236.6,269.16 236.9,269.75 237.2,269.06 237.5,269.8 237.8,268.86 238.1,269.77 238.4,268.83 238.7,269.86 239,268.98 239.3,270.06 239.6,268.65 239.9,269.77 240.2,268.98 240.5,270.22 240.8,269.06 241.1,269.68 241.4,269.07 241.7,270.13 242,268.77 242.3,270.19 242.6,268.9 242.9,269.69" fill="none" stroke="#ff1010" stroke-width="2.3" stroke-linejoin="round"/>
<path d="M71,194.6 H63.4 Q61,194.6 61,197 V203.2 Q61,205.6 58.6,205.6 Q61,205.6 61,208 V214.7 Q61,217.1 63.4,217.1 H71" fill="none" stroke="#222" stroke-width="0.95" stroke-dasharray="1.2,0.9"/>
<line x1="49.5" y1="205.6" x2="58.6" y2="205.6" stroke="#222" stroke-width="1.1" stroke-dasharray="1.6,0.8"/>
<path d="M244.7,223.5 H251.6 Q254,223.5 254,225.9 V227 Q254,229.4 256.4,229.4 Q254,229.4 254,231.8 V233.3 Q254,235.7 251.6,235.7 H244.7" fill="none" stroke="#1c1cff" stroke-width="0.95" stroke-dasharray="1.2,0.9"/>
<line x1="256.4" y1="229.4" x2="262.5" y2="229.4" stroke="#1c1cff" stroke-width="1.0" stroke-dasharray="1.4,0.9"/>
<rect x="49.5" y="170.3" width="215" height="105.9" fill="none" stroke="#3a3a3a" stroke-width="1"/>
<text transform="translate(29.5,228) rotate(-90)" text-anchor="middle" font-size="7.8" font-weight="bold">&lt;<tspan font-style="italic">U</tspan><tspan font-size="5.07" dy="1.5" font-style="italic">B</tspan><tspan dy="-1.5">&gt; (mm/s)</tspan></text>
<text transform="translate(289.5,220) rotate(-90)" text-anchor="middle" font-size="7.5" font-weight="bold" fill="#1c1cff"><tspan font-style="italic">Q</tspan><tspan font-size="4.875" dy="1.5" font-style="italic">sp</tspan><tspan dy="-1.5"> (mL/h)</tspan></text>
<text x="166" y="296" text-anchor="middle" font-size="7.5" font-weight="bold"><tspan font-style="normal">t</tspan> (s)</text>
<rect x="57.2" y="241.7" width="94.5" height="28.3" fill="#fff" stroke="#8a8a8a" stroke-width="0.7"/>
<circle cx="65" cy="247" r="0.6" fill="#000"/>
<text x="70.2" y="248.8" font-size="6.85" fill="#000"><tspan font-weight="bold">RBCs in PBS</tspan> (Hct = 30%)</text>
<circle cx="65" cy="256.15" r="0.6" fill="#7e3ccc"/>
<text x="70.2" y="257.95" font-size="6.85" fill="#7e3ccc"><tspan font-weight="bold">RBCs in PBS</tspan> (Hct = 40%)</text>
<circle cx="65" cy="265.3" r="0.6" fill="#ff1010"/>
<text x="70.2" y="267.1" font-size="6.85" fill="#ff1010"><tspan font-weight="bold">RBCs in PBS</tspan> (Hct = 50%)</text>
<line x1="338.48" y1="169.4" x2="338.48" y2="275.4" stroke="#f1f1f1" stroke-width="0.6" />
<line x1="345.96" y1="169.4" x2="345.96" y2="275.4" stroke="#f1f1f1" stroke-width="0.6" />
<line x1="353.44" y1="169.4" x2="353.44" y2="275.4" stroke="#f1f1f1" stroke-width="0.6" />
<line x1="368.39" y1="169.4" x2="368.39" y2="275.4" stroke="#f1f1f1" stroke-width="0.6" />
<line x1="375.87" y1="169.4" x2="375.87" y2="275.4" stroke="#f1f1f1" stroke-width="0.6" />
<line x1="383.35" y1="169.4" x2="383.35" y2="275.4" stroke="#f1f1f1" stroke-width="0.6" />
<line x1="398.31" y1="169.4" x2="398.31" y2="275.4" stroke="#f1f1f1" stroke-width="0.6" />
<line x1="405.79" y1="169.4" x2="405.79" y2="275.4" stroke="#f1f1f1" stroke-width="0.6" />
<line x1="413.26" y1="169.4" x2="413.26" y2="275.4" stroke="#f1f1f1" stroke-width="0.6" />
<line x1="428.22" y1="169.4" x2="428.22" y2="275.4" stroke="#f1f1f1" stroke-width="0.6" />
<line x1="435.7" y1="169.4" x2="435.7" y2="275.4" stroke="#f1f1f1" stroke-width="0.6" />
<line x1="443.18" y1="169.4" x2="443.18" y2="275.4" stroke="#f1f1f1" stroke-width="0.6" />
<line x1="458.14" y1="169.4" x2="458.14" y2="275.4" stroke="#f1f1f1" stroke-width="0.6" />
<line x1="465.61" y1="169.4" x2="465.61" y2="275.4" stroke="#f1f1f1" stroke-width="0.6" />
<line x1="473.09" y1="169.4" x2="473.09" y2="275.4" stroke="#f1f1f1" stroke-width="0.6" />
<line x1="488.05" y1="169.4" x2="488.05" y2="275.4" stroke="#f1f1f1" stroke-width="0.6" />
<line x1="495.53" y1="169.4" x2="495.53" y2="275.4" stroke="#f1f1f1" stroke-width="0.6" />
<line x1="503.01" y1="169.4" x2="503.01" y2="275.4" stroke="#f1f1f1" stroke-width="0.6" />
<line x1="517.96" y1="169.4" x2="517.96" y2="275.4" stroke="#f1f1f1" stroke-width="0.6" />
<line x1="525.44" y1="169.4" x2="525.44" y2="275.4" stroke="#f1f1f1" stroke-width="0.6" />
<line x1="532.92" y1="169.4" x2="532.92" y2="275.4" stroke="#f1f1f1" stroke-width="0.6" />
<line x1="331" y1="271.16" x2="540.4" y2="271.16" stroke="#f1f1f1" stroke-width="0.6" />
<line x1="331" y1="266.92" x2="540.4" y2="266.92" stroke="#f1f1f1" stroke-width="0.6" />
<line x1="331" y1="262.68" x2="540.4" y2="262.68" stroke="#f1f1f1" stroke-width="0.6" />
<line x1="331" y1="258.44" x2="540.4" y2="258.44" stroke="#f1f1f1" stroke-width="0.6" />
<line x1="331" y1="249.96" x2="540.4" y2="249.96" stroke="#f1f1f1" stroke-width="0.6" />
<line x1="331" y1="245.72" x2="540.4" y2="245.72" stroke="#f1f1f1" stroke-width="0.6" />
<line x1="331" y1="241.48" x2="540.4" y2="241.48" stroke="#f1f1f1" stroke-width="0.6" />
<line x1="331" y1="237.24" x2="540.4" y2="237.24" stroke="#f1f1f1" stroke-width="0.6" />
<line x1="331" y1="228.76" x2="540.4" y2="228.76" stroke="#f1f1f1" stroke-width="0.6" />
<line x1="331" y1="224.52" x2="540.4" y2="224.52" stroke="#f1f1f1" stroke-width="0.6" />
<line x1="331" y1="220.28" x2="540.4" y2="220.28" stroke="#f1f1f1" stroke-width="0.6" />
<line x1="331" y1="216.04" x2="540.4" y2="216.04" stroke="#f1f1f1" stroke-width="0.6" />
<line x1="331" y1="207.56" x2="540.4" y2="207.56" stroke="#f1f1f1" stroke-width="0.6" />
<line x1="331" y1="203.32" x2="540.4" y2="203.32" stroke="#f1f1f1" stroke-width="0.6" />
<line x1="331" y1="199.08" x2="540.4" y2="199.08" stroke="#f1f1f1" stroke-width="0.6" />
<line x1="331" y1="194.84" x2="540.4" y2="194.84" stroke="#f1f1f1" stroke-width="0.6" />
<line x1="331" y1="186.36" x2="540.4" y2="186.36" stroke="#f1f1f1" stroke-width="0.6" />
<line x1="331" y1="182.12" x2="540.4" y2="182.12" stroke="#f1f1f1" stroke-width="0.6" />
<line x1="331" y1="177.88" x2="540.4" y2="177.88" stroke="#f1f1f1" stroke-width="0.6" />
<line x1="331" y1="173.64" x2="540.4" y2="173.64" stroke="#f1f1f1" stroke-width="0.6" />
<line x1="360.91" y1="169.4" x2="360.91" y2="275.4" stroke="#e2e2e2" stroke-width="0.6" />
<line x1="390.83" y1="169.4" x2="390.83" y2="275.4" stroke="#e2e2e2" stroke-width="0.6" />
<line x1="420.74" y1="169.4" x2="420.74" y2="275.4" stroke="#e2e2e2" stroke-width="0.6" />
<line x1="450.66" y1="169.4" x2="450.66" y2="275.4" stroke="#e2e2e2" stroke-width="0.6" />
<line x1="480.57" y1="169.4" x2="480.57" y2="275.4" stroke="#e2e2e2" stroke-width="0.6" />
<line x1="510.49" y1="169.4" x2="510.49" y2="275.4" stroke="#e2e2e2" stroke-width="0.6" />
<line x1="331" y1="254.2" x2="540.4" y2="254.2" stroke="#e2e2e2" stroke-width="0.6" />
<line x1="331" y1="233" x2="540.4" y2="233" stroke="#e2e2e2" stroke-width="0.6" />
<line x1="331" y1="211.8" x2="540.4" y2="211.8" stroke="#e2e2e2" stroke-width="0.6" />
<line x1="331" y1="190.6" x2="540.4" y2="190.6" stroke="#e2e2e2" stroke-width="0.6" />
<line x1="329" y1="275.4" x2="331" y2="275.4" stroke="#3a3a3a" stroke-width="0.8" />
<text x="325" y="277.2" font-size="7" text-anchor="end" fill="#000" font-weight="bold" font-style="normal" >0</text>
<line x1="329" y1="254.2" x2="331" y2="254.2" stroke="#3a3a3a" stroke-width="0.8" />
<text x="325" y="256" font-size="7" text-anchor="end" fill="#000" font-weight="bold" font-style="normal" >10</text>
<line x1="329" y1="233" x2="331" y2="233" stroke="#3a3a3a" stroke-width="0.8" />
<text x="325" y="234.8" font-size="7" text-anchor="end" fill="#000" font-weight="bold" font-style="normal" >20</text>
<line x1="329" y1="211.8" x2="331" y2="211.8" stroke="#3a3a3a" stroke-width="0.8" />
<text x="325" y="213.6" font-size="7" text-anchor="end" fill="#000" font-weight="bold" font-style="normal" >30</text>
<line x1="329" y1="190.6" x2="331" y2="190.6" stroke="#3a3a3a" stroke-width="0.8" />
<text x="325" y="192.4" font-size="7" text-anchor="end" fill="#000" font-weight="bold" font-style="normal" >40</text>
<line x1="329" y1="169.4" x2="331" y2="169.4" stroke="#3a3a3a" stroke-width="0.8" />
<text x="325" y="171.2" font-size="7" text-anchor="end" fill="#000" font-weight="bold" font-style="normal" >50</text>
<line x1="331" y1="275.4" x2="331" y2="277.4" stroke="#3a3a3a" stroke-width="0.8" />
<text x="331" y="285.4" font-size="7" text-anchor="middle" fill="#000" font-weight="bold" font-style="normal" >-0.3</text>
<line x1="360.91" y1="275.4" x2="360.91" y2="277.4" stroke="#3a3a3a" stroke-width="0.8" />
<text x="360.91" y="285.4" font-size="7" text-anchor="middle" fill="#000" font-weight="bold" font-style="normal" >0.1</text>
<line x1="390.83" y1="275.4" x2="390.83" y2="277.4" stroke="#3a3a3a" stroke-width="0.8" />
<text x="390.83" y="285.4" font-size="7" text-anchor="middle" fill="#000" font-weight="bold" font-style="normal" >0.5</text>
<line x1="420.74" y1="275.4" x2="420.74" y2="277.4" stroke="#3a3a3a" stroke-width="0.8" />
<text x="420.74" y="285.4" font-size="7" text-anchor="middle" fill="#000" font-weight="bold" font-style="normal" >0.9</text>
<line x1="450.66" y1="275.4" x2="450.66" y2="277.4" stroke="#3a3a3a" stroke-width="0.8" />
<text x="450.66" y="285.4" font-size="7" text-anchor="middle" fill="#000" font-weight="bold" font-style="normal" >1.3</text>
<line x1="480.57" y1="275.4" x2="480.57" y2="277.4" stroke="#3a3a3a" stroke-width="0.8" />
<text x="480.57" y="285.4" font-size="7" text-anchor="middle" fill="#000" font-weight="bold" font-style="normal" >1.7</text>
<line x1="510.49" y1="275.4" x2="510.49" y2="277.4" stroke="#3a3a3a" stroke-width="0.8" />
<text x="510.49" y="285.4" font-size="7" text-anchor="middle" fill="#000" font-weight="bold" font-style="normal" >2.1</text>
<line x1="540.4" y1="275.4" x2="540.4" y2="277.4" stroke="#3a3a3a" stroke-width="0.8" />
<text x="540.4" y="285.4" font-size="7" text-anchor="middle" fill="#000" font-weight="bold" font-style="normal" >2.5</text>
<polyline points="360.91,266.71 375.87,255.68 390.83,244.24 405.79,234.27 420.74,225.37 435.7,217.1 450.66,207.56 465.61,199.72" fill="none" stroke="#000" stroke-width="1.15" stroke-dasharray="2,1.2"/>
<polyline points="360.91,266.92 375.87,255.68 390.83,244.24 405.79,234.7 420.74,225.79 435.7,218.16 450.66,211.16 465.61,205.86" fill="none" stroke="#7e3ccc" stroke-width="1.15" stroke-dasharray="2,1.2"/>
<polyline points="360.91,267.34 375.87,257.38 390.83,246.57 405.79,238.3 420.74,230.03 435.7,221.76 450.66,214.77 465.61,208.83" fill="none" stroke="#ff1010" stroke-width="1.15" stroke-dasharray="2,1.2"/>
<circle cx="360.91" cy="266.71" r="1.5" fill="#fff" stroke="#000" stroke-width="1"/>
<circle cx="375.87" cy="255.68" r="1.5" fill="#fff" stroke="#000" stroke-width="1"/>
<circle cx="390.83" cy="244.24" r="1.5" fill="#fff" stroke="#000" stroke-width="1"/>
<circle cx="405.79" cy="234.27" r="1.5" fill="#fff" stroke="#000" stroke-width="1"/>
<circle cx="420.74" cy="225.37" r="1.5" fill="#fff" stroke="#000" stroke-width="1"/>
<circle cx="435.7" cy="217.1" r="1.5" fill="#fff" stroke="#000" stroke-width="1"/>
<circle cx="450.66" cy="207.56" r="1.5" fill="#fff" stroke="#000" stroke-width="1"/>
<circle cx="465.61" cy="199.72" r="1.5" fill="#fff" stroke="#000" stroke-width="1"/>
<path d="M360.91,265.12 L362.71,268.22 L359.11,268.22 Z" fill="#7e3ccc" stroke="#7e3ccc" stroke-width="0.4"/>
<path d="M375.87,253.88 L377.67,256.98 L374.07,256.98 Z" fill="#7e3ccc" stroke="#7e3ccc" stroke-width="0.4"/>
<path d="M390.83,242.44 L392.63,245.54 L389.03,245.54 Z" fill="#7e3ccc" stroke="#7e3ccc" stroke-width="0.4"/>
<path d="M405.79,232.9 L407.59,236 L403.99,236 Z" fill="#7e3ccc" stroke="#7e3ccc" stroke-width="0.4"/>
<path d="M420.74,223.99 L422.54,227.09 L418.94,227.09 Z" fill="#7e3ccc" stroke="#7e3ccc" stroke-width="0.4"/>
<path d="M435.7,216.36 L437.5,219.46 L433.9,219.46 Z" fill="#7e3ccc" stroke="#7e3ccc" stroke-width="0.4"/>
<path d="M450.66,209.36 L452.46,212.46 L448.86,212.46 Z" fill="#7e3ccc" stroke="#7e3ccc" stroke-width="0.4"/>
<path d="M465.61,204.06 L467.41,207.16 L463.81,207.16 Z" fill="#7e3ccc" stroke="#7e3ccc" stroke-width="0.4"/>
<rect x="359.41" y="265.84" width="3" height="3" fill="none" stroke="#ff1010" stroke-width="0.9"/>
<rect x="374.37" y="255.88" width="3" height="3" fill="none" stroke="#ff1010" stroke-width="0.9"/>
<rect x="389.33" y="245.07" width="3" height="3" fill="none" stroke="#ff1010" stroke-width="0.9"/>
<rect x="404.29" y="236.8" width="3" height="3" fill="none" stroke="#ff1010" stroke-width="0.9"/>
<rect x="419.24" y="228.53" width="3" height="3" fill="none" stroke="#ff1010" stroke-width="0.9"/>
<rect x="434.2" y="220.26" width="3" height="3" fill="none" stroke="#ff1010" stroke-width="0.9"/>
<rect x="449.16" y="213.27" width="3" height="3" fill="none" stroke="#ff1010" stroke-width="0.9"/>
<rect x="464.11" y="207.33" width="3" height="3" fill="none" stroke="#ff1010" stroke-width="0.9"/>
<rect x="331" y="169.4" width="209.4" height="106" fill="none" stroke="#3a3a3a" stroke-width="1"/>
<rect x="339.3" y="174.5" width="97.7" height="25.7" fill="#fff" stroke="#8a8a8a" stroke-width="0.7"/>
<circle cx="351.3" cy="179.2" r="1.2" fill="#fff" stroke="#000" stroke-width="1"/>
<text x="354.9" y="181.4" font-size="6.9" fill="#000">RBCs in PBS (Hct = 30%)</text>
<path d="M351.3,185.9 L353.1,189 L349.5,189 Z" fill="#7e3ccc" stroke="#7e3ccc" stroke-width="0.4"/>
<text x="354.9" y="189.9" font-size="6.9" fill="#7e3ccc">RBCs in PBS (Hct = 40%)</text>
<rect x="349.8" y="194.7" width="3" height="3" fill="none" stroke="#ff1010" stroke-width="0.9"/>
<text x="354.9" y="198.4" font-size="6.9" fill="#ff1010">RBCs in PBS (Hct = 50%)</text>
<text transform="translate(314.5,216.6) rotate(-90)" text-anchor="middle" font-size="7.8" font-weight="bold">&lt;<tspan font-style="italic">U</tspan><tspan font-size="5.07" dy="1.5" font-style="italic">B</tspan><tspan dy="-1.5">&gt; (mm/s)</tspan></text>
<text x="418" y="294.8" font-size="7.8" font-weight="bold"><tspan font-style="italic">Q</tspan><tspan font-size="5.07" dy="1.5" font-style="italic">sp</tspan><tspan dy="-1.5"> (mL/h)</tspan></text>
<text x="470.2" y="188.1" font-size="7" fill="#000">y = -4.8496x<tspan font-size="4.2" dy="-2.4">2</tspan><tspan dy="2.4"> + 30.791x</tspan></text>
<text x="487.8" y="195.6" font-size="6.9" fill="#000" font-weight="bold" font-style="italic">R<tspan font-size="4.14" dy="-2.4">2</tspan><tspan dy="2.4"> = 0.9983</tspan></text>
<text x="472.3" y="210.1" font-size="7" fill="#7e3ccc">y = -7.897x<tspan font-size="4.2" dy="-2.4">2</tspan><tspan dy="2.4"> + 33.519x</tspan></text>
<text x="488.4" y="217.1" font-size="6.9" fill="#7e3ccc" font-weight="bold" font-style="italic">R<tspan font-size="4.14" dy="-2.4">2</tspan><tspan dy="2.4"> = 0.9999</tspan></text>
<text x="442" y="227.8" font-size="7" fill="#ff1010">y = -5.7167x<tspan font-size="4.2" dy="-2.4">2</tspan><tspan dy="2.4"> + 29.286x</tspan></text>
<text x="461.2" y="234.9" font-size="6.9" fill="#ff1010" font-weight="bold" font-style="italic">R<tspan font-size="4.14" dy="-2.4">2</tspan><tspan dy="2.4"> = 0.999</tspan></text>
<line x1="54.88" y1="322.5" x2="54.88" y2="428.1" stroke="#f1f1f1" stroke-width="0.6" />
<line x1="60.25" y1="322.5" x2="60.25" y2="428.1" stroke="#f1f1f1" stroke-width="0.6" />
<line x1="65.62" y1="322.5" x2="65.62" y2="428.1" stroke="#f1f1f1" stroke-width="0.6" />
<line x1="76.38" y1="322.5" x2="76.38" y2="428.1" stroke="#f1f1f1" stroke-width="0.6" />
<line x1="81.75" y1="322.5" x2="81.75" y2="428.1" stroke="#f1f1f1" stroke-width="0.6" />
<line x1="87.12" y1="322.5" x2="87.12" y2="428.1" stroke="#f1f1f1" stroke-width="0.6" />
<line x1="97.88" y1="322.5" x2="97.88" y2="428.1" stroke="#f1f1f1" stroke-width="0.6" />
<line x1="103.25" y1="322.5" x2="103.25" y2="428.1" stroke="#f1f1f1" stroke-width="0.6" />
<line x1="108.62" y1="322.5" x2="108.62" y2="428.1" stroke="#f1f1f1" stroke-width="0.6" />
<line x1="119.38" y1="322.5" x2="119.38" y2="428.1" stroke="#f1f1f1" stroke-width="0.6" />
<line x1="124.75" y1="322.5" x2="124.75" y2="428.1" stroke="#f1f1f1" stroke-width="0.6" />
<line x1="130.12" y1="322.5" x2="130.12" y2="428.1" stroke="#f1f1f1" stroke-width="0.6" />
<line x1="140.88" y1="322.5" x2="140.88" y2="428.1" stroke="#f1f1f1" stroke-width="0.6" />
<line x1="146.25" y1="322.5" x2="146.25" y2="428.1" stroke="#f1f1f1" stroke-width="0.6" />
<line x1="151.62" y1="322.5" x2="151.62" y2="428.1" stroke="#f1f1f1" stroke-width="0.6" />
<line x1="162.38" y1="322.5" x2="162.38" y2="428.1" stroke="#f1f1f1" stroke-width="0.6" />
<line x1="167.75" y1="322.5" x2="167.75" y2="428.1" stroke="#f1f1f1" stroke-width="0.6" />
<line x1="173.12" y1="322.5" x2="173.12" y2="428.1" stroke="#f1f1f1" stroke-width="0.6" />
<line x1="183.88" y1="322.5" x2="183.88" y2="428.1" stroke="#f1f1f1" stroke-width="0.6" />
<line x1="189.25" y1="322.5" x2="189.25" y2="428.1" stroke="#f1f1f1" stroke-width="0.6" />
<line x1="194.62" y1="322.5" x2="194.62" y2="428.1" stroke="#f1f1f1" stroke-width="0.6" />
<line x1="205.38" y1="322.5" x2="205.38" y2="428.1" stroke="#f1f1f1" stroke-width="0.6" />
<line x1="210.75" y1="322.5" x2="210.75" y2="428.1" stroke="#f1f1f1" stroke-width="0.6" />
<line x1="216.12" y1="322.5" x2="216.12" y2="428.1" stroke="#f1f1f1" stroke-width="0.6" />
<line x1="226.88" y1="322.5" x2="226.88" y2="428.1" stroke="#f1f1f1" stroke-width="0.6" />
<line x1="232.25" y1="322.5" x2="232.25" y2="428.1" stroke="#f1f1f1" stroke-width="0.6" />
<line x1="237.62" y1="322.5" x2="237.62" y2="428.1" stroke="#f1f1f1" stroke-width="0.6" />
<line x1="248.38" y1="322.5" x2="248.38" y2="428.1" stroke="#f1f1f1" stroke-width="0.6" />
<line x1="253.75" y1="322.5" x2="253.75" y2="428.1" stroke="#f1f1f1" stroke-width="0.6" />
<line x1="259.12" y1="322.5" x2="259.12" y2="428.1" stroke="#f1f1f1" stroke-width="0.6" />
<line x1="49.5" y1="327.78" x2="264.5" y2="327.78" stroke="#f1f1f1" stroke-width="0.6" />
<line x1="49.5" y1="333.06" x2="264.5" y2="333.06" stroke="#f1f1f1" stroke-width="0.6" />
<line x1="49.5" y1="338.34" x2="264.5" y2="338.34" stroke="#f1f1f1" stroke-width="0.6" />
<line x1="49.5" y1="348.9" x2="264.5" y2="348.9" stroke="#f1f1f1" stroke-width="0.6" />
<line x1="49.5" y1="354.18" x2="264.5" y2="354.18" stroke="#f1f1f1" stroke-width="0.6" />
<line x1="49.5" y1="359.46" x2="264.5" y2="359.46" stroke="#f1f1f1" stroke-width="0.6" />
<line x1="49.5" y1="370.02" x2="264.5" y2="370.02" stroke="#f1f1f1" stroke-width="0.6" />
<line x1="49.5" y1="375.3" x2="264.5" y2="375.3" stroke="#f1f1f1" stroke-width="0.6" />
<line x1="49.5" y1="380.58" x2="264.5" y2="380.58" stroke="#f1f1f1" stroke-width="0.6" />
<line x1="49.5" y1="391.14" x2="264.5" y2="391.14" stroke="#f1f1f1" stroke-width="0.6" />
<line x1="49.5" y1="396.42" x2="264.5" y2="396.42" stroke="#f1f1f1" stroke-width="0.6" />
<line x1="49.5" y1="401.7" x2="264.5" y2="401.7" stroke="#f1f1f1" stroke-width="0.6" />
<line x1="49.5" y1="412.26" x2="264.5" y2="412.26" stroke="#f1f1f1" stroke-width="0.6" />
<line x1="49.5" y1="417.54" x2="264.5" y2="417.54" stroke="#f1f1f1" stroke-width="0.6" />
<line x1="49.5" y1="422.82" x2="264.5" y2="422.82" stroke="#f1f1f1" stroke-width="0.6" />
<line x1="71" y1="322.5" x2="71" y2="428.1" stroke="#e2e2e2" stroke-width="0.6" />
<line x1="92.5" y1="322.5" x2="92.5" y2="428.1" stroke="#e2e2e2" stroke-width="0.6" />
<line x1="114" y1="322.5" x2="114" y2="428.1" stroke="#e2e2e2" stroke-width="0.6" />
<line x1="135.5" y1="322.5" x2="135.5" y2="428.1" stroke="#e2e2e2" stroke-width="0.6" />
<line x1="157" y1="322.5" x2="157" y2="428.1" stroke="#e2e2e2" stroke-width="0.6" />
<line x1="178.5" y1="322.5" x2="178.5" y2="428.1" stroke="#e2e2e2" stroke-width="0.6" />
<line x1="200" y1="322.5" x2="200" y2="428.1" stroke="#e2e2e2" stroke-width="0.6" />
<line x1="221.5" y1="322.5" x2="221.5" y2="428.1" stroke="#e2e2e2" stroke-width="0.6" />
<line x1="243" y1="322.5" x2="243" y2="428.1" stroke="#e2e2e2" stroke-width="0.6" />
<line x1="49.5" y1="343.62" x2="264.5" y2="343.62" stroke="#e2e2e2" stroke-width="0.6" />
<line x1="49.5" y1="364.74" x2="264.5" y2="364.74" stroke="#e2e2e2" stroke-width="0.6" />
<line x1="49.5" y1="385.86" x2="264.5" y2="385.86" stroke="#e2e2e2" stroke-width="0.6" />
<line x1="49.5" y1="406.98" x2="264.5" y2="406.98" stroke="#e2e2e2" stroke-width="0.6" />
<line x1="47.5" y1="322.5" x2="49.5" y2="322.5" stroke="#3a3a3a" stroke-width="0.8" />
<line x1="264.5" y1="322.5" x2="266.5" y2="322.5" stroke="#3a3a3a" stroke-width="0.8" />
<line x1="47.5" y1="343.62" x2="49.5" y2="343.62" stroke="#3a3a3a" stroke-width="0.8" />
<line x1="264.5" y1="343.62" x2="266.5" y2="343.62" stroke="#3a3a3a" stroke-width="0.8" />
<line x1="47.5" y1="364.74" x2="49.5" y2="364.74" stroke="#3a3a3a" stroke-width="0.8" />
<line x1="264.5" y1="364.74" x2="266.5" y2="364.74" stroke="#3a3a3a" stroke-width="0.8" />
<line x1="47.5" y1="385.86" x2="49.5" y2="385.86" stroke="#3a3a3a" stroke-width="0.8" />
<line x1="264.5" y1="385.86" x2="266.5" y2="385.86" stroke="#3a3a3a" stroke-width="0.8" />
<line x1="47.5" y1="406.98" x2="49.5" y2="406.98" stroke="#3a3a3a" stroke-width="0.8" />
<line x1="264.5" y1="406.98" x2="266.5" y2="406.98" stroke="#3a3a3a" stroke-width="0.8" />
<line x1="47.5" y1="428.1" x2="49.5" y2="428.1" stroke="#3a3a3a" stroke-width="0.8" />
<line x1="264.5" y1="428.1" x2="266.5" y2="428.1" stroke="#3a3a3a" stroke-width="0.8" />
<line x1="49.5" y1="428.1" x2="49.5" y2="430.1" stroke="#3a3a3a" stroke-width="0.8" />
<line x1="71" y1="428.1" x2="71" y2="430.1" stroke="#3a3a3a" stroke-width="0.8" />
<line x1="92.5" y1="428.1" x2="92.5" y2="430.1" stroke="#3a3a3a" stroke-width="0.8" />
<line x1="114" y1="428.1" x2="114" y2="430.1" stroke="#3a3a3a" stroke-width="0.8" />
<line x1="135.5" y1="428.1" x2="135.5" y2="430.1" stroke="#3a3a3a" stroke-width="0.8" />
<line x1="157" y1="428.1" x2="157" y2="430.1" stroke="#3a3a3a" stroke-width="0.8" />
<line x1="178.5" y1="428.1" x2="178.5" y2="430.1" stroke="#3a3a3a" stroke-width="0.8" />
<line x1="200" y1="428.1" x2="200" y2="430.1" stroke="#3a3a3a" stroke-width="0.8" />
<line x1="221.5" y1="428.1" x2="221.5" y2="430.1" stroke="#3a3a3a" stroke-width="0.8" />
<line x1="243" y1="428.1" x2="243" y2="430.1" stroke="#3a3a3a" stroke-width="0.8" />
<line x1="264.5" y1="428.1" x2="264.5" y2="430.1" stroke="#3a3a3a" stroke-width="0.8" />
<text x="42.1" y="324.3" font-size="7" text-anchor="end" fill="#000" font-weight="bold" font-style="normal" >50</text>
<text x="269.9" y="324.3" font-size="7" text-anchor="start" fill="#1c1cff" font-weight="bold" font-style="normal" >2.3</text>
<text x="42.1" y="345.42" font-size="7" text-anchor="end" fill="#000" font-weight="bold" font-style="normal" >40</text>
<text x="269.9" y="345.42" font-size="7" text-anchor="start" fill="#1c1cff" font-weight="bold" font-style="normal" >1.5</text>
<text x="42.1" y="366.54" font-size="7" text-anchor="end" fill="#000" font-weight="bold" font-style="normal" >30</text>
<text x="269.9" y="366.54" font-size="7" text-anchor="start" fill="#1c1cff" font-weight="bold" font-style="normal" >0.7</text>
<text x="42.1" y="387.66" font-size="7" text-anchor="end" fill="#000" font-weight="bold" font-style="normal" >20</text>
<text x="269.9" y="387.66" font-size="7" text-anchor="start" fill="#1c1cff" font-weight="bold" font-style="normal" >-0.1</text>
<text x="42.1" y="408.78" font-size="7" text-anchor="end" fill="#000" font-weight="bold" font-style="normal" >10</text>
<text x="269.9" y="408.78" font-size="7" text-anchor="start" fill="#1c1cff" font-weight="bold" font-style="normal" >-0.9</text>
<text x="42.1" y="429.9" font-size="7" text-anchor="end" fill="#000" font-weight="bold" font-style="normal" >0</text>
<text x="269.9" y="429.9" font-size="7" text-anchor="start" fill="#1c1cff" font-weight="bold" font-style="normal" >-1.7</text>
<text x="49.5" y="438.2" font-size="7" text-anchor="middle" fill="#000" font-weight="bold" font-style="normal" >-480</text>
<text x="71" y="438.2" font-size="7" text-anchor="middle" fill="#000" font-weight="bold" font-style="normal" >0</text>
<text x="92.5" y="438.2" font-size="7" text-anchor="middle" fill="#000" font-weight="bold" font-style="normal" >480</text>
<text x="114" y="438.2" font-size="7" text-anchor="middle" fill="#000" font-weight="bold" font-style="normal" >960</text>
<text x="135.5" y="438.2" font-size="7" text-anchor="middle" fill="#000" font-weight="bold" font-style="normal" >1440</text>
<text x="157" y="438.2" font-size="7" text-anchor="middle" fill="#000" font-weight="bold" font-style="normal" >1920</text>
<text x="178.5" y="438.2" font-size="7" text-anchor="middle" fill="#000" font-weight="bold" font-style="normal" >2400</text>
<text x="200" y="438.2" font-size="7" text-anchor="middle" fill="#000" font-weight="bold" font-style="normal" >2880</text>
<text x="221.5" y="438.2" font-size="7" text-anchor="middle" fill="#000" font-weight="bold" font-style="normal" >3360</text>
<text x="243" y="438.2" font-size="7" text-anchor="middle" fill="#000" font-weight="bold" font-style="normal" >3840</text>
<text x="264.5" y="438.2" font-size="7" text-anchor="middle" fill="#000" font-weight="bold" font-style="normal" >4320</text>
<polyline points="71,343.62 92.5,343.62 92.5,348.9 114,348.9 114,354.18 135.5,354.18 135.5,359.46 157,359.46 157,364.74 178.5,364.74 178.5,370.02 200,370.02 200,375.3 221.5,375.3 221.5,380.58 243,380.58" fill="none" stroke="#1c1cff" stroke-width="1.3"/>
<polyline points="71,370.44 71.3,369.67 71.6,362.68 71.9,364.16 72.2,358.59 72.5,361.57 72.8,357.09 73.1,359.86 73.4,355.42 73.7,358.34 74,354.24 74.3,356.57 74.6,352.58 74.9,357.99 75.2,352.91 75.5,355.98 75.8,351.21 76.1,357.67 76.4,351.11 76.7,355.98 77,349.84 77.3,354.87 77.6,350.01 77.9,355.4 78.2,351.83 78.5,354.82 78.8,351.27 79.1,356.62 79.4,351.51 79.7,355.88 80,350.16 80.3,355.22 80.6,350.32 80.9,354.28 81.2,351.56 81.5,354.58 81.8,349.77 82.1,355.1 82.4,350.68 82.7,355.45 83,350.21 83.3,354.58 83.6,349.18 83.9,355.59 84.2,350.6 84.5,355.16 84.8,349.74 85.1,355.9 85.4,349.08 85.7,354.2 86,348.3 86.3,353.64 86.6,349.76 86.9,355.32 87.2,350.4 87.5,354.49 87.8,350.62 88.1,354.9 88.4,348.53 88.7,354.55 89,348.13 89.3,353.75 89.6,348.54 89.9,354.44 90.2,348.77 90.5,353.97 90.8,347.96 91.1,355.24 91.4,348.88 91.7,354.37 92,349.94 92.3,354.39 92.6,347.09 92.9,357.1 93.2,350.95 93.5,356.67 93.8,352.77 94.1,358.02 94.4,353.97 94.7,357.64 95,353.74 95.3,356.86 95.6,354.17 95.9,358.72 96.2,354.1 96.5,357.44 96.8,353.5 97.1,359.19 97.4,354.41 97.7,358.14 98,353.24 98.3,359.36 98.6,352.58 98.9,359.37 99.2,354.08 99.5,358.22 99.8,353.91 100.1,359.51 100.4,352.36 100.7,357.6 101,354.47 101.3,357.85 101.6,354.35 101.9,358.54 102.2,353.43 102.5,357.98 102.8,355.01 103.1,358.41 103.4,354.06 103.7,358.82 104,352.53 104.3,359.16 104.6,353.7 104.9,358.98 105.2,353.29 105.5,357.5 105.8,352.71 106.1,359.44 106.4,352.78 106.7,359.49 107,354.07 107.3,358.44 107.6,354.84 107.9,359.07 108.2,354.96 108.5,357.57 108.8,354.57 109.1,357.83 109.4,354.23 109.7,357.54 110,355.13 110.3,357.81 110.6,354.87 110.9,358.37 111.2,355.07 111.5,359.73 111.8,353.51 112.1,357.81 112.4,354.48 112.7,358.34 113,354.18 113.3,357.74 113.6,352.9 113.9,360.05 114.2,355.55 114.5,363.22 114.8,360.73 115.1,363.82 115.4,360.84 115.7,364.67 116,359.98 116.3,364.7 116.6,362.24 116.9,366.88 117.2,361.22 117.5,365.1 117.8,361.38 118.1,364.98 118.4,361.58 118.7,367.46 119,360.9 119.3,366.9 119.6,362.51 119.9,366.2 120.2,362.84 120.5,367.28 120.8,362.04 121.1,367.38 121.4,362.61 121.7,366.09 122,361.51 122.3,368.02 122.6,361.47 122.9,367.63 123.2,361.6 123.5,367.51 123.8,363.09 124.1,367.01 124.4,362.81 124.7,365.85 125,363.64 125.3,366.49 125.6,363.11 125.9,367.52 126.2,361.43 126.5,366.95 126.8,361.5 127.1,368.28 127.4,361.47 127.7,366.78 128,363.28 128.3,366.46 128.6,363.35 128.9,366.42 129.2,362.32 129.5,368.12 129.8,361.8 130.1,367.1 130.4,362.27 130.7,367.89 131,363.66 131.3,367.56 131.6,361.66 131.9,367.86 132.2,362.05 132.5,367.13 132.8,363.45 133.1,367.89 133.4,363.08 133.7,367.92 134,361.52 134.3,366.94 134.6,362.91 134.9,368.28 135.2,362.13 135.5,363.29 135.8,366.61 136.1,371.39 136.4,367.83 136.7,374.07 137,370.19 137.3,374.5 137.6,368.62 137.9,374.39 138.2,370.3 138.5,374.37 138.8,371.02 139.1,373.36 139.4,369.32 139.7,374.96 140,370.48 140.3,375.74 140.6,370.83 140.9,375.72 141.2,370.07 141.5,374.35 141.8,371.46 142.1,374.63 142.4,371.57 142.7,375.36 143,371.61 143.3,375.06 143.6,371.96 143.9,376.21 144.2,371.52 144.5,375.26 144.8,371.06 145.1,376.29 145.4,371.46 145.7,376.36 146,371.32 146.3,375.53 146.6,371.31 146.9,374.42 147.2,371.52 147.5,374.81 147.8,372.51 148.1,376.2 148.4,372.15 148.7,375.5 149,370.95 149.3,375.69 149.6,371.85 149.9,375.62 150.2,371.35 150.5,376.22 150.8,372.36 151.1,375.74 151.4,372.05 151.7,375.12 152,370.9 152.3,375.64 152.6,371.37 152.9,376.2 153.2,370.6 153.5,375.51 153.8,371.27 154.1,375.65 154.4,371.5 154.7,376.07 155,371.64 155.3,375.72 155.6,371.58 155.9,376.62 156.2,371.1 156.5,376.48 156.8,370.56 157.1,375.04 157.4,376.15 157.7,382.72 158,378.01 158.3,382.09 158.6,380.06 158.9,383.12 159.2,380.51 159.5,383.01 159.8,380.79 160.1,384.13 160.4,379.62 160.7,384.8 161,381.08 161.3,384.62 161.6,380.26 161.9,383.64 162.2,379.97 162.5,385.42 162.8,381.43 163.1,385.51 163.4,381.19 163.7,384.69 164,380.12 164.3,385.46 164.6,381.84 164.9,384.75 165.2,381.22 165.5,384.63 165.8,381.91 166.1,384.65 166.4,380.93 166.7,384.11 167,381.31 167.3,384.98 167.6,382.41 167.9,384.8 168.2,381.25 168.5,385.19 168.8,382.38 169.1,386.15 169.4,380.98 169.7,386.14 170,382.35 170.3,384.77 170.6,382.5 170.9,385.8 171.2,382.06 171.5,384.54 171.8,381.78 172.1,386.09 172.4,381.01 172.7,384.82 173,382.34 173.3,386.12 173.6,381.52 173.9,385.7 174.2,382.47 174.5,384.45 174.8,381.3 175.1,385.18 175.4,382.52 175.7,386.19 176,381.42 176.3,385.92 176.6,382.5 176.9,386.04 177.2,382.54 177.5,386.05 177.8,381.78 178.1,385.03 178.4,381.59 178.7,388.4 179,388 179.3,391.55 179.6,389.42 179.9,392.61 180.2,390.71 180.5,392.88 180.8,391.17 181.1,393.26 181.4,391.01 181.7,393.7 182,390.48 182.3,393.9 182.6,391.15 182.9,393.9 183.2,391.61 183.5,393.8 183.8,391.93 184.1,393.94 184.4,391.24 184.7,394.99 185,392.3 185.3,394.96 185.6,391.12 185.9,394.42 186.2,391.41 186.5,395.06 186.8,392.05 187.1,395.82 187.4,392.29 187.7,395.32 188,391.84 188.3,396.18 188.6,392.48 188.9,395.97 189.2,391.9 189.5,395.67 189.8,392.45 190.1,395.21 190.4,393.08 190.7,394.87 191,393.08 191.3,395.93 191.6,392.79 191.9,394.97 192.2,393.1 192.5,396.14 192.8,391.78 193.1,395.87 193.4,392.8 193.7,395.15 194,392.79 194.3,395.53 194.6,393.03 194.9,395.52 195.2,392.86 195.5,396.41 195.8,391.66 196.1,395.71 196.4,392.91 196.7,396.43 197,392.81 197.3,395.4 197.6,393.33 197.9,395.44 198.2,392.53 198.5,395.65 198.8,393 199.1,395.66 199.4,393.34 199.7,395.25 200,393.2 200.3,399.84 200.6,400.48 200.9,402.91 201.2,401.64 201.5,404 201.8,401.77 202.1,404.86 202.4,401.92 202.7,405.38 203,402.3 203.3,405.99 203.6,403.05 203.9,405.44 204.2,402.43 204.5,405.4 204.8,403.01 205.1,406.29 205.4,404.17 205.7,406.72 206,403.11 206.3,406.56 206.6,403.47 206.9,406.94 207.2,404.42 207.5,406.63 207.8,404.01 208.1,407.16 208.4,403.67 208.7,407.22 209,404.05 209.3,407.38 209.6,403.97 209.9,407.15 210.2,404.67 210.5,406.27 210.8,404.85 211.1,406.77 211.4,404.93 211.7,407.48 212,404.33 212.3,407.21 212.6,404.26 212.9,407.31 213.2,404.48 213.5,406.39 213.8,404.07 214.1,407.45 214.4,404.5 214.7,407.17 215,404.3 215.3,406.52 215.6,404.2 215.9,406.8 216.2,405.14 216.5,406.83 216.8,404.24 217.1,406.75 217.4,404.23 217.7,407.84 218,404.58 218.3,407.02 218.6,404.61 218.9,407.44 219.2,404.21 219.5,407.36 219.8,404.39 220.1,406.6 220.4,405.09 220.7,406.86 221,404.26 221.3,406.93 221.6,405.44 221.9,413.56 222.2,414.7 222.5,417.01 222.8,415.46 223.1,418.29 223.4,416.07 223.7,418.34 224,416.71 224.3,418.93 224.6,417.15 224.9,418.9 225.2,417.02 225.5,419.28 225.8,417.22 226.1,420.33 226.4,418.51 226.7,420.04 227,417.86 227.3,420.77 227.6,418.44 227.9,420.19 228.2,418.85 228.5,421.05 228.8,418.99 229.1,420.79 229.4,419.18 229.7,420.83 230,418.43 230.3,420.51 230.6,418.66 230.9,420.98 231.2,418.66 231.5,421.25 231.8,419.41 232.1,421.51 232.4,419.2 232.7,420.65 233,419.75 233.3,421.18 233.6,419.33 233.9,421.02 234.2,419.69 234.5,421.1 234.8,419.54 235.1,421.64 235.4,419.89 235.7,421.57 236,419.04 236.3,420.94 236.6,418.97 236.9,421.57 237.2,419.01 237.5,421.15 237.8,419.58 238.1,421.26 238.4,418.94 238.7,421.48 239,419.61 239.3,421.32 239.6,419.71 239.9,420.94 240.2,419.9 240.5,421.76 240.8,419.72 241.1,421.87 241.4,419.76 241.7,421.18 242,419.49 242.3,421.11 242.6,419.64 242.9,421.9" fill="none" stroke="#222" stroke-width="0.6" stroke-linejoin="round"/>
<polyline points="71,371.2 71.3,370.02 71.6,363.8 71.9,363.84 72.2,359.16 72.5,359.47 72.8,354.69 73.1,357.1 73.4,353.41 73.7,356.07 74,352.53 74.3,355.2 74.6,352.2 74.9,355.17 75.2,351.87 75.5,353.72 75.8,351.64 76.1,353.49 76.4,350.71 76.7,354.38 77,350.57 77.3,352.85 77.6,350.63 77.9,354.24 78.2,350.84 78.5,353.48 78.8,350.18 79.1,353.44 79.4,350.15 79.7,353.4 80,349.77 80.3,353.23 80.6,348.97 80.9,353.02 81.2,350.2 81.5,352.02 81.8,348.7 82.1,352.68 82.4,349.93 82.7,353.4 83,349.16 83.3,352.93 83.6,348.54 83.9,352.06 84.2,349.37 84.5,353.02 84.8,349.68 85.1,352.73 85.4,349.65 85.7,352.51 86,348.5 86.3,352.88 86.6,348.16 86.9,352.01 87.2,349.21 87.5,351.29 87.8,348.53 88.1,351.84 88.4,349.25 88.7,352.45 89,348.39 89.3,352.01 89.6,348.81 89.9,351.11 90.2,349.09 90.5,351.2 90.8,348.55 91.1,351.25 91.4,348.26 91.7,351.9 92,347.26 92.3,350.64 92.6,347.2 92.9,353.25 93.2,351.59 93.5,356.36 93.8,353.13 94.1,356.4 94.4,353.24 94.7,355.33 95,352.65 95.3,356.07 95.6,353.83 95.9,356.38 96.2,353.87 96.5,356.47 96.8,353.63 97.1,356.59 97.4,353.49 97.7,356.47 98,354.42 98.3,356.21 98.6,354.48 98.9,357.02 99.2,354.12 99.5,357.56 99.8,353.93 100.1,357.45 100.4,353.18 100.7,356.41 101,354.85 101.3,356.58 101.6,354.27 101.9,357.34 102.2,353.7 102.5,357 102.8,353.35 103.1,356.44 103.4,353.59 103.7,356.81 104,353.55 104.3,356.53 104.6,353.42 104.9,357.77 105.2,353.39 105.5,357.48 105.8,354.77 106.1,358.14 106.4,354.34 106.7,356.66 107,354.07 107.3,357.37 107.6,354.3 107.9,356.8 108.2,354.9 108.5,357.52 108.8,354.35 109.1,356.77 109.4,354.38 109.7,357.78 110,353.92 110.3,357.36 110.6,354.46 110.9,357.17 111.2,354.75 111.5,356.9 111.8,354.38 112.1,356.75 112.4,353.92 112.7,357.77 113,354.11 113.3,356.61 113.6,354.53 113.9,357.31 114.2,356.6 114.5,362.73 114.8,359.71 115.1,363.55 115.4,360.55 115.7,363.52 116,361.64 116.3,364.31 116.6,361.1 116.9,364.74 117.2,362.48 117.5,364.88 117.8,361.26 118.1,365.26 118.4,361.4 118.7,365.78 119,362.64 119.3,364.84 119.6,362.26 119.9,366.01 120.2,362.64 120.5,366.05 120.8,361.98 121.1,365.47 121.4,362.41 121.7,366.23 122,362.23 122.3,365.26 122.6,362.2 122.9,365.16 123.2,362.98 123.5,366.39 123.8,362.29 124.1,365.43 124.4,363.19 124.7,365.93 125,362.37 125.3,366.06 125.6,362.25 125.9,366.16 126.2,362.45 126.5,365.99 126.8,363.18 127.1,365.73 127.4,363 127.7,365.91 128,362.48 128.3,365.52 128.6,363.68 128.9,366.25 129.2,363.38 129.5,365.77 129.8,363.63 130.1,366.41 130.4,363.39 130.7,365.59 131,362.58 131.3,365.93 131.6,363.4 131.9,366.53 132.2,363.2 132.5,365.72 132.8,362.35 133.1,366.38 133.4,362.69 133.7,365.55 134,362.59 134.3,366.09 134.6,362.57 134.9,365.74 135.2,362.65 135.5,363.31 135.8,366.27 136.1,371.22 136.4,368.7 136.7,372.89 137,369.13 137.3,372.98 137.6,370.57 137.9,373 138.2,370.04 138.5,372.48 138.8,370.58 139.1,373.8 139.4,370.14 139.7,374.04 140,371.45 140.3,373.74 140.6,370.5 140.9,373.93 141.2,371.39 141.5,373.17 141.8,370.65 142.1,374.42 142.4,371.11 142.7,373.8 143,370.94 143.3,374.51 143.6,371.15 143.9,374.26 144.2,371.78 144.5,373.89 144.8,371.78 145.1,373.97 145.4,371.59 145.7,373.71 146,371.34 146.3,374.07 146.6,372.17 146.9,373.97 147.2,371.87 147.5,374.24 147.8,371.34 148.1,373.8 148.4,372.15 148.7,374.09 149,372.23 149.3,374.75 149.6,372.34 149.9,373.78 150.2,371.72 150.5,374.75 150.8,371.36 151.1,374.51 151.4,372.07 151.7,374.98 152,371.5 152.3,374.42 152.6,371.75 152.9,375.07 153.2,371.15 153.5,375.06 153.8,372.37 154.1,374.22 154.4,371.98 154.7,374 155,371.49 155.3,373.85 155.6,371.32 155.9,374.59 156.2,371.71 156.5,374.36 156.8,371.25 157.1,374.51 157.4,376.03 157.7,381.25 158,378.72 158.3,382.34 158.6,379.57 158.9,381.96 159.2,379.47 159.5,382.47 159.8,380.44 160.1,382.92 160.4,380.47 160.7,382.43 161,380.22 161.3,383.09 161.6,380.23 161.9,383.3 162.2,380.43 162.5,383.13 162.8,381.48 163.1,383.55 163.4,380.9 163.7,384.03 164,381.15 164.3,383.24 164.6,381.55 164.9,383.21 165.2,381.66 165.5,384.41 165.8,381.75 166.1,384.16 166.4,381.46 166.7,383.52 167,381.43 167.3,383.48 167.6,382.1 167.9,384.14 168.2,382.2 168.5,384.66 168.8,381.86 169.1,384.27 169.4,381.21 169.7,383.64 170,381.19 170.3,383.57 170.6,381.71 170.9,384.36 171.2,381.25 171.5,384 171.8,381.31 172.1,384.38 172.4,381.91 172.7,383.79 173,382.22 173.3,384.04 173.6,382.09 173.9,384.06 174.2,381.52 174.5,384.07 174.8,381.75 175.1,383.66 175.4,382.37 175.7,384.5 176,381.44 176.3,384.01 176.6,382.51 176.9,383.91 177.2,382.11 177.5,384.08 177.8,381.86 178.1,384.01 178.4,381.76 178.7,386.86 179,387.45 179.3,391.46 179.6,389.55 179.9,391.78 180.2,389.81 180.5,392.22 180.8,390.15 181.1,392.71 181.4,390.7 181.7,393.03 182,390.93 182.3,393.08 182.6,391.23 182.9,393.71 183.2,391.66 183.5,393.73 183.8,391.71 184.1,393.74 184.4,391.93 184.7,393.95 185,391.7 185.3,393.65 185.6,392.41 185.9,394.45 186.2,392.56 186.5,394.49 186.8,391.91 187.1,393.94 187.4,392.11 187.7,394.04 188,391.9 188.3,394.03 188.6,392.78 188.9,393.9 189.2,392.17 189.5,394.13 189.8,392.65 190.1,394.99 190.4,392.22 190.7,394.76 191,392.42 191.3,394.68 191.6,393.06 191.9,394.88 192.2,392.73 192.5,394.95 192.8,392.66 193.1,395.02 193.4,393.12 193.7,395.11 194,393.03 194.3,394.62 194.6,392.62 194.9,395.14 195.2,392.38 195.5,395.14 195.8,392.18 196.1,394.55 196.4,393.01 196.7,394.25 197,392.41 197.3,395.13 197.6,392.46 197.9,394.48 198.2,392.54 198.5,394.82 198.8,392.91 199.1,394.86 199.4,392.98 199.7,394.15 200,393.12 200.3,399.12 200.6,399.82 200.9,402.58 201.2,401.68 201.5,403.82 201.8,402.36 202.1,404.09 202.4,402.43 202.7,404.33 203,403.12 203.3,404.88 203.6,402.95 203.9,404.68 204.2,403.1 204.5,405.32 204.8,403.26 205.1,405.62 205.4,403.77 205.7,405.72 206,404.09 206.3,405.81 206.6,404.43 206.9,405.65 207.2,404.17 207.5,406.24 207.8,404.11 208.1,406.35 208.4,404.03 208.7,406.48 209,404.32 209.3,406.23 209.6,404.52 209.9,405.93 210.2,404.28 210.5,406.33 210.8,404.9 211.1,406.04 211.4,404.88 211.7,406.51 212,404.58 212.3,406.07 212.6,404.53 212.9,406.42 213.2,404.93 213.5,406.34 213.8,404.31 214.1,406.09 214.4,405 214.7,406.51 215,404.48 215.3,406.82 215.6,404.89 215.9,406.7 216.2,405.15 216.5,406.37 216.8,404.5 217.1,406.62 217.4,404.88 217.7,406.57 218,404.85 218.3,406.54 218.6,404.5 218.9,406.92 219.2,405.12 219.5,406.73 219.8,404.46 220.1,406.6 220.4,404.86 220.7,406.4 221,404.88 221.3,406.59 221.6,405.64 221.9,413.12 222.2,413.87 222.5,416.36 222.8,415.63 223.1,417.11 223.4,416.17 223.7,417.51 224,416.83 224.3,418.13 224.6,417.23 224.9,418.55 225.2,417.66 225.5,418.84 225.8,417.5 226.1,419.19 226.4,417.63 226.7,419.63 227,418.17 227.3,419.49 227.6,418.16 227.9,419.93 228.2,418.47 228.5,419.93 228.8,418.5 229.1,419.94 229.4,418.74 229.7,419.97 230,418.88 230.3,420.11 230.6,418.73 230.9,419.98 231.2,419.26 231.5,420.55 231.8,419.06 232.1,420.46 232.4,418.84 232.7,420.54 233,419.12 233.3,420.72 233.6,419.13 233.9,420.42 234.2,419.45 234.5,420.26 234.8,419.08 235.1,420.78 235.4,419.39 235.7,420.56 236,419.2 236.3,420.63 236.6,419.49 236.9,420.85 237.2,419.32 237.5,420.74 237.8,419.25 238.1,420.57 238.4,419.25 238.7,420.41 239,419.36 239.3,420.73 239.6,419.32 239.9,420.5 240.2,419.62 240.5,420.38 240.8,419.67 241.1,420.44 241.4,419.43 241.7,420.7 242,419.29 242.3,420.62 242.6,419.26 242.9,420.35" fill="none" stroke="#7e3ccc" stroke-width="1.0" stroke-linejoin="round"/>
<polyline points="71,372.63 71.3,370.55 71.6,365.08 71.9,365.16 72.2,360.31 72.5,360.76 72.8,355.73 73.1,357.64 73.4,354.3 73.7,356.99 74,353.89 74.3,355.6 74.6,351.93 74.9,355.06 75.2,351.34 75.5,354.11 75.8,351.79 76.1,353.71 76.4,351.04 76.7,354.88 77,350.68 77.3,354.44 77.6,350.87 77.9,354.23 78.2,351.21 78.5,353.31 78.8,350.08 79.1,353.94 79.4,350.4 79.7,352.72 80,350.55 80.3,352.82 80.6,350.41 80.9,353.75 81.2,350.44 81.5,353.78 81.8,349.14 82.1,352.22 82.4,349.91 82.7,352.88 83,350.42 83.3,352.66 83.6,348.77 83.9,352 84.2,349.2 84.5,351.91 84.8,349.13 85.1,353.17 85.4,349.68 85.7,351.5 86,349.78 86.3,352.34 86.6,349.79 86.9,351.43 87.2,348.84 87.5,352.8 87.8,348.87 88.1,351.77 88.4,348.37 88.7,351.13 89,348.37 89.3,351.16 89.6,348.21 89.9,352.45 90.2,349.08 90.5,351.63 90.8,348 91.1,350.81 91.4,348.49 91.7,352.21 92,347.08 92.3,350.55 92.6,346.56 92.9,354.39 93.2,352.05 93.5,355.44 93.8,353.09 94.1,355.39 94.4,352.28 94.7,355.97 95,352.29 95.3,355.29 95.6,353.18 95.9,356.74 96.2,352.91 96.5,356.17 96.8,353.33 97.1,357.17 97.4,353.14 97.7,355.63 98,352.85 98.3,356.23 98.6,353.54 98.9,356.1 99.2,353.59 99.5,356.35 99.8,354.24 100.1,356.91 100.4,354.26 100.7,357.21 101,354.43 101.3,357.24 101.6,353.16 101.9,356.8 102.2,353.35 102.5,356.41 102.8,353.33 103.1,356.73 103.4,354.2 103.7,357.65 104,353.94 104.3,356.68 104.6,353.18 104.9,356.69 105.2,353.52 105.5,356.37 105.8,353.24 106.1,356.53 106.4,354.58 106.7,357.74 107,354.38 107.3,357.7 107.6,353.03 107.9,357.14 108.2,354.67 108.5,356.23 108.8,354.34 109.1,356.78 109.4,353.67 109.7,357.75 110,354.11 110.3,356.38 110.6,353.77 110.9,356.37 111.2,354.56 111.5,357.08 111.8,353.55 112.1,356.26 112.4,353.96 112.7,357.33 113,353.44 113.3,356.79 113.6,353.23 113.9,356.44 114.2,355.16 114.5,361.97 114.8,359.12 115.1,363.09 115.4,361.1 115.7,362.84 116,360.77 116.3,363.32 116.6,360.88 116.9,363.42 117.2,360.87 117.5,363.84 117.8,362.25 118.1,363.94 118.4,361.73 118.7,364.68 119,361.98 119.3,364.21 119.6,361.96 119.9,365.51 120.2,361.98 120.5,365.6 120.8,362.85 121.1,365.76 121.4,361.61 121.7,365.14 122,362.24 122.3,365.19 122.6,361.71 122.9,364.53 123.2,362.17 123.5,365.3 123.8,362.73 124.1,365.61 124.4,362.13 124.7,364.7 125,362.19 125.3,365.26 125.6,362.54 125.9,365.57 126.2,363.23 126.5,365.54 126.8,362.76 127.1,365.97 127.4,363 127.7,365.91 128,362.25 128.3,365.62 128.6,362.04 128.9,364.74 129.2,362.48 129.5,365.62 129.8,362.37 130.1,365.32 130.4,363.3 130.7,365 131,362.49 131.3,364.99 131.6,363.32 131.9,365.26 132.2,362.71 132.5,365.54 132.8,363.39 133.1,365.91 133.4,362.92 133.7,365.92 134,363.42 134.3,366.18 134.6,362.54 134.9,366.22 135.2,361.94 135.5,362.92 135.8,366.49 136.1,370.58 136.4,369.4 136.7,372.41 137,370.1 137.3,372.05 137.6,370.55 137.9,372.19 138.2,369.67 138.5,373.62 138.8,370.68 139.1,373.5 139.4,370.75 139.7,373.37 140,371.05 140.3,373.68 140.6,371.38 140.9,373.29 141.2,371.12 141.5,373.32 141.8,371.34 142.1,374.44 142.4,372 142.7,373.38 143,371.02 143.3,373.39 143.6,371.84 143.9,374.53 144.2,371.42 144.5,373.73 144.8,372.21 145.1,373.85 145.4,371.93 145.7,374.6 146,371.05 146.3,374.62 146.6,371.18 146.9,374.84 147.2,371.24 147.5,374.85 147.8,371.15 148.1,373.76 148.4,372.05 148.7,373.98 149,371.68 149.3,374.33 149.6,372.04 149.9,374.81 150.2,371.98 150.5,373.97 150.8,372.16 151.1,374.33 151.4,371.72 151.7,374.48 152,371.96 152.3,373.97 152.6,372.02 152.9,374.17 153.2,372.34 153.5,374.47 153.8,372.32 154.1,374.7 154.4,371.69 154.7,373.93 155,371.74 155.3,374.2 155.6,371.98 155.9,374.57 156.2,371.56 156.5,374.95 156.8,371.6 157.1,373.96 157.4,376.57 157.7,380.43 158,379.62 158.3,381.72 158.6,379.66 158.9,382.51 159.2,380.19 159.5,382.77 159.8,380.25 160.1,382.14 160.4,380.25 160.7,382.58 161,380.68 161.3,382.52 161.6,381.48 161.9,383.69 162.2,381.6 162.5,382.91 162.8,381.59 163.1,382.97 163.4,380.92 163.7,384.14 164,381.23 164.3,383.52 164.6,381.03 164.9,383.73 165.2,382 165.5,384.01 165.8,381.79 166.1,383.57 166.4,381.89 166.7,383.76 167,382.1 167.3,384.07 167.6,381.34 167.9,384.06 168.2,382.38 168.5,384.22 168.8,382.4 169.1,384.01 169.4,381.43 169.7,384.26 170,381.41 170.3,384.38 170.6,382.17 170.9,383.68 171.2,381.98 171.5,384.32 171.8,382.25 172.1,383.92 172.4,381.66 172.7,383.95 173,381.84 173.3,384.2 173.6,381.47 173.9,383.6 174.2,382.34 174.5,384.48 174.8,381.79 175.1,383.69 175.4,382.42 175.7,383.83 176,381.94 176.3,384.65 176.6,382.33 176.9,383.83 177.2,381.78 177.5,384.09 177.8,381.6 178.1,384.77 178.4,381.5 178.7,386.61 179,387.73 179.3,390.5 179.6,389.26 179.9,391.7 180.2,390.15 180.5,392.34 180.8,389.99 181.1,392.56 181.4,390.33 181.7,393.24 182,391.42 182.3,392.84 182.6,390.83 182.9,393.45 183.2,390.93 183.5,393.03 183.8,391.53 184.1,393.92 184.4,391.66 184.7,393.78 185,391.34 185.3,393.39 185.6,392.36 185.9,394.16 186.2,391.92 186.5,393.59 186.8,391.75 187.1,393.74 187.4,392.51 187.7,393.81 188,392.66 188.3,393.97 188.6,391.97 188.9,394.06 189.2,391.83 189.5,393.69 189.8,392.65 190.1,393.82 190.4,392.28 190.7,393.91 191,392.22 191.3,394.25 191.6,392.33 191.9,394.59 192.2,392.14 192.5,394.68 192.8,392.79 193.1,394.16 193.4,392 193.7,394.19 194,392.68 194.3,394.29 194.6,392.8 194.9,394.66 195.2,392.36 195.5,393.93 195.8,392.04 196.1,394.35 196.4,392.75 196.7,394.45 197,392.07 197.3,394.19 197.6,393 197.9,394.05 198.2,392.96 198.5,394.38 198.8,392.71 199.1,394.7 199.4,392.82 199.7,393.88 200,392.57 200.3,398.49 200.6,400.06 200.9,402.29 201.2,401.75 201.5,403.43 201.8,401.68 202.1,403.64 202.4,402.32 202.7,403.95 203,402.42 203.3,404.43 203.6,403.41 203.9,404.83 204.2,403.51 204.5,404.5 204.8,403.87 205.1,405.31 205.4,403.5 205.7,405.09 206,403.78 206.3,405.5 206.6,404.29 206.9,405.62 207.2,403.91 207.5,405.91 207.8,404.51 208.1,405.71 208.4,404.25 208.7,406 209,404.44 209.3,405.93 209.6,404.09 209.9,405.74 210.2,404.44 210.5,406.21 210.8,404.86 211.1,406.31 211.4,404.68 211.7,405.95 212,404.74 212.3,406.25 212.6,404.58 212.9,406.23 213.2,404.93 213.5,406.36 213.8,404.4 214.1,406.23 214.4,404.88 214.7,405.92 215,404.72 215.3,405.79 215.6,404.35 215.9,406.06 216.2,404.37 216.5,405.9 216.8,404.61 217.1,406.38 217.4,404.62 217.7,406.1 218,405.11 218.3,406.12 218.6,404.83 218.9,406.51 219.2,404.39 219.5,406.53 219.8,404.39 220.1,405.93 220.4,405.12 220.7,406.03 221,405.14 221.3,405.9 221.6,405.63 221.9,413 222.2,414.23 222.5,416.26 222.8,415.88 223.1,417.4 223.4,416.54 223.7,417.84 224,416.8 224.3,418.12 224.6,417.4 224.9,418.51 225.2,417.33 225.5,418.52 225.8,417.84 226.1,419.02 226.4,418.08 226.7,419.29 227,418.21 227.3,419.25 227.6,418.37 227.9,419.66 228.2,418.64 228.5,419.7 228.8,418.69 229.1,419.77 229.4,419.09 229.7,419.84 230,418.84 230.3,420.09 230.6,419.28 230.9,420.04 231.2,419.1 231.5,420.14 231.8,419.38 232.1,420.25 232.4,419.16 232.7,420.25 233,419.09 233.3,420.31 233.6,419.6 233.9,420.2 234.2,419.29 234.5,420.13 234.8,419.18 235.1,420.47 235.4,419.31 235.7,420.23 236,419.72 236.3,420.6 236.6,419.48 236.9,420.4 237.2,419.49 237.5,420.58 237.8,419.58 238.1,420.59 238.4,419.7 238.7,420.71 239,419.44 239.3,420.39 239.6,419.56 239.9,420.68 240.2,419.65 240.5,420.59 240.8,419.36 241.1,420.73 241.4,419.69 241.7,420.65 242,419.52 242.3,420.67 242.6,419.8 242.9,420.47" fill="none" stroke="#ff1010" stroke-width="2.1" stroke-linejoin="round"/>
<path d="M71,345.5 H62.9 Q60.5,345.5 60.5,347.9 V354.2 Q60.5,356.6 58.1,356.6 Q60.5,356.6 60.5,359 V366.3 Q60.5,368.7 62.9,368.7 H71" fill="none" stroke="#222" stroke-width="0.95" stroke-dasharray="1.2,0.9"/>
<line x1="49.5" y1="356.6" x2="58.1" y2="356.6" stroke="#222" stroke-width="1.1" stroke-dasharray="1.6,0.8"/>
<path d="M244.8,375.3 H251.4 Q253.8,375.3 253.8,377.7 V379.6 Q253.8,382 256.2,382 Q253.8,382 253.8,384.4 V386 Q253.8,388.4 251.4,388.4 H244.8" fill="none" stroke="#1c1cff" stroke-width="0.95" stroke-dasharray="1.2,0.9"/>
<line x1="256.2" y1="382" x2="262.5" y2="382" stroke="#1c1cff" stroke-width="1.0" stroke-dasharray="1.4,0.9"/>
<rect x="49.5" y="322.5" width="215" height="105.6" fill="none" stroke="#3a3a3a" stroke-width="1"/>
<text transform="translate(29.5,381) rotate(-90)" text-anchor="middle" font-size="7.8" font-weight="bold">&lt;<tspan font-style="italic">U</tspan><tspan font-size="5.07" dy="1.5" font-style="italic">B</tspan><tspan dy="-1.5">&gt; (mm/s)</tspan></text>
<text transform="translate(289.5,373) rotate(-90)" text-anchor="middle" font-size="7.5" font-weight="bold" fill="#1c1cff"><tspan font-style="italic">Q</tspan><tspan font-size="4.875" dy="1.5" font-style="italic">sp</tspan><tspan dy="-1.5"> (mL/h)</tspan></text>
<text x="166" y="449" text-anchor="middle" font-size="7.5" font-weight="bold"><tspan font-style="italic">t</tspan> (s)</text>
<text x="63.3" y="417.9" font-size="7.6" font-weight="bold" fill="#1c1cff"><tspan font-style="italic">C</tspan><tspan font-style="italic" font-size="5.0" dy="1.6">glycerin</tspan><tspan dy="-1.5"> = 40%</tspan></text>
<line x1="348.47" y1="322.7" x2="348.47" y2="428.9" stroke="#f1f1f1" stroke-width="0.6" />
<line x1="383.4" y1="322.7" x2="383.4" y2="428.9" stroke="#f1f1f1" stroke-width="0.6" />
<line x1="418.33" y1="322.7" x2="418.33" y2="428.9" stroke="#f1f1f1" stroke-width="0.6" />
<line x1="453.27" y1="322.7" x2="453.27" y2="428.9" stroke="#f1f1f1" stroke-width="0.6" />
<line x1="488.2" y1="322.7" x2="488.2" y2="428.9" stroke="#f1f1f1" stroke-width="0.6" />
<line x1="523.13" y1="322.7" x2="523.13" y2="428.9" stroke="#f1f1f1" stroke-width="0.6" />
<line x1="331" y1="424.65" x2="540.6" y2="424.65" stroke="#f1f1f1" stroke-width="0.6" />
<line x1="331" y1="420.4" x2="540.6" y2="420.4" stroke="#f1f1f1" stroke-width="0.6" />
<line x1="331" y1="416.16" x2="540.6" y2="416.16" stroke="#f1f1f1" stroke-width="0.6" />
<line x1="331" y1="411.91" x2="540.6" y2="411.91" stroke="#f1f1f1" stroke-width="0.6" />
<line x1="331" y1="403.41" x2="540.6" y2="403.41" stroke="#f1f1f1" stroke-width="0.6" />
<line x1="331" y1="399.16" x2="540.6" y2="399.16" stroke="#f1f1f1" stroke-width="0.6" />
<line x1="331" y1="394.92" x2="540.6" y2="394.92" stroke="#f1f1f1" stroke-width="0.6" />
<line x1="331" y1="390.67" x2="540.6" y2="390.67" stroke="#f1f1f1" stroke-width="0.6" />
<line x1="331" y1="382.17" x2="540.6" y2="382.17" stroke="#f1f1f1" stroke-width="0.6" />
<line x1="331" y1="377.92" x2="540.6" y2="377.92" stroke="#f1f1f1" stroke-width="0.6" />
<line x1="331" y1="373.68" x2="540.6" y2="373.68" stroke="#f1f1f1" stroke-width="0.6" />
<line x1="331" y1="369.43" x2="540.6" y2="369.43" stroke="#f1f1f1" stroke-width="0.6" />
<line x1="331" y1="360.93" x2="540.6" y2="360.93" stroke="#f1f1f1" stroke-width="0.6" />
<line x1="331" y1="356.68" x2="540.6" y2="356.68" stroke="#f1f1f1" stroke-width="0.6" />
<line x1="331" y1="352.44" x2="540.6" y2="352.44" stroke="#f1f1f1" stroke-width="0.6" />
<line x1="331" y1="348.19" x2="540.6" y2="348.19" stroke="#f1f1f1" stroke-width="0.6" />
<line x1="331" y1="339.69" x2="540.6" y2="339.69" stroke="#f1f1f1" stroke-width="0.6" />
<line x1="331" y1="335.44" x2="540.6" y2="335.44" stroke="#f1f1f1" stroke-width="0.6" />
<line x1="331" y1="331.2" x2="540.6" y2="331.2" stroke="#f1f1f1" stroke-width="0.6" />
<line x1="331" y1="326.95" x2="540.6" y2="326.95" stroke="#f1f1f1" stroke-width="0.6" />
<line x1="365.93" y1="322.7" x2="365.93" y2="428.9" stroke="#e2e2e2" stroke-width="0.6" />
<line x1="400.87" y1="322.7" x2="400.87" y2="428.9" stroke="#e2e2e2" stroke-width="0.6" />
<line x1="435.8" y1="322.7" x2="435.8" y2="428.9" stroke="#e2e2e2" stroke-width="0.6" />
<line x1="470.73" y1="322.7" x2="470.73" y2="428.9" stroke="#e2e2e2" stroke-width="0.6" />
<line x1="505.67" y1="322.7" x2="505.67" y2="428.9" stroke="#e2e2e2" stroke-width="0.6" />
<line x1="331" y1="407.66" x2="540.6" y2="407.66" stroke="#e2e2e2" stroke-width="0.6" />
<line x1="331" y1="386.42" x2="540.6" y2="386.42" stroke="#e2e2e2" stroke-width="0.6" />
<line x1="331" y1="365.18" x2="540.6" y2="365.18" stroke="#e2e2e2" stroke-width="0.6" />
<line x1="331" y1="343.94" x2="540.6" y2="343.94" stroke="#e2e2e2" stroke-width="0.6" />
<line x1="329" y1="428.9" x2="331" y2="428.9" stroke="#3a3a3a" stroke-width="0.8" />
<text x="325" y="430.7" font-size="7" text-anchor="end" fill="#000" font-weight="bold" font-style="normal" >0</text>
<line x1="329" y1="407.66" x2="331" y2="407.66" stroke="#3a3a3a" stroke-width="0.8" />
<text x="325" y="409.46" font-size="7" text-anchor="end" fill="#000" font-weight="bold" font-style="normal" >10</text>
<line x1="329" y1="386.42" x2="331" y2="386.42" stroke="#3a3a3a" stroke-width="0.8" />
<text x="325" y="388.22" font-size="7" text-anchor="end" fill="#000" font-weight="bold" font-style="normal" >20</text>
<line x1="329" y1="365.18" x2="331" y2="365.18" stroke="#3a3a3a" stroke-width="0.8" />
<text x="325" y="366.98" font-size="7" text-anchor="end" fill="#000" font-weight="bold" font-style="normal" >30</text>
<line x1="329" y1="343.94" x2="331" y2="343.94" stroke="#3a3a3a" stroke-width="0.8" />
<text x="325" y="345.74" font-size="7" text-anchor="end" fill="#000" font-weight="bold" font-style="normal" >40</text>
<line x1="329" y1="322.7" x2="331" y2="322.7" stroke="#3a3a3a" stroke-width="0.8" />
<text x="325" y="324.5" font-size="7" text-anchor="end" fill="#000" font-weight="bold" font-style="normal" >50</text>
<line x1="331" y1="428.9" x2="331" y2="430.9" stroke="#3a3a3a" stroke-width="0.8" />
<text x="331" y="438.8" font-size="7" text-anchor="middle" fill="#000" font-weight="bold" font-style="normal" >-0.3</text>
<line x1="365.93" y1="428.9" x2="365.93" y2="430.9" stroke="#3a3a3a" stroke-width="0.8" />
<text x="365.93" y="438.8" font-size="7" text-anchor="middle" fill="#000" font-weight="bold" font-style="normal" >0.1</text>
<line x1="400.87" y1="428.9" x2="400.87" y2="430.9" stroke="#3a3a3a" stroke-width="0.8" />
<text x="400.87" y="438.8" font-size="7" text-anchor="middle" fill="#000" font-weight="bold" font-style="normal" >0.5</text>
<line x1="435.8" y1="428.9" x2="435.8" y2="430.9" stroke="#3a3a3a" stroke-width="0.8" />
<text x="435.8" y="438.8" font-size="7" text-anchor="middle" fill="#000" font-weight="bold" font-style="normal" >0.9</text>
<line x1="470.73" y1="428.9" x2="470.73" y2="430.9" stroke="#3a3a3a" stroke-width="0.8" />
<text x="470.73" y="438.8" font-size="7" text-anchor="middle" fill="#000" font-weight="bold" font-style="normal" >1.3</text>
<line x1="505.67" y1="428.9" x2="505.67" y2="430.9" stroke="#3a3a3a" stroke-width="0.8" />
<text x="505.67" y="438.8" font-size="7" text-anchor="middle" fill="#000" font-weight="bold" font-style="normal" >1.7</text>
<line x1="540.6" y1="428.9" x2="540.6" y2="430.9" stroke="#3a3a3a" stroke-width="0.8" />
<text x="540.6" y="438.8" font-size="7" text-anchor="middle" fill="#000" font-weight="bold" font-style="normal" >2.1</text>
<polyline points="365.93,421.18 368.99,418.55 372.05,415.97 375.1,413.43 378.16,410.92 381.22,408.46 384.27,406.04 387.33,403.66 390.39,401.32 393.44,399.02 396.5,396.76 399.56,394.54 402.61,392.36 405.67,390.22 408.73,388.12 411.78,386.06 414.84,384.04 417.9,382.07 420.95,380.13 424.01,378.23 427.07,376.38 430.12,374.56 433.18,372.79 436.24,371.05 439.29,369.36 442.35,367.7 445.41,366.09 448.46,364.52 451.52,362.98 454.58,361.49 457.63,360.04 460.69,358.63 463.75,357.26 466.8,355.93 469.86,354.64 472.92,353.39 475.97,352.18 479.03,351.01 482.09,349.88 485.14,348.79 488.2,347.75" fill="none" stroke="#1c1cff" stroke-width="1.35" stroke-dasharray="2.2,1.3"/>
<circle cx="365.93" cy="420.4" r="1.35" fill="#fff" stroke="#1c1cff" stroke-width="1"/>
<circle cx="365.93" cy="420.19" r="1.35" fill="#fff" stroke="#1c1cff" stroke-width="1"/>
<circle cx="383.4" cy="407.24" r="1.35" fill="#fff" stroke="#1c1cff" stroke-width="1"/>
<circle cx="383.4" cy="406.39" r="1.35" fill="#fff" stroke="#1c1cff" stroke-width="1"/>
<circle cx="383.4" cy="405.54" r="1.35" fill="#fff" stroke="#1c1cff" stroke-width="1"/>
<circle cx="383.4" cy="404.69" r="1.35" fill="#fff" stroke="#1c1cff" stroke-width="1"/>
<circle cx="400.87" cy="394.49" r="1.35" fill="#fff" stroke="#1c1cff" stroke-width="1"/>
<circle cx="400.87" cy="393.22" r="1.35" fill="#fff" stroke="#1c1cff" stroke-width="1"/>
<circle cx="400.87" cy="391.94" r="1.35" fill="#fff" stroke="#1c1cff" stroke-width="1"/>
<circle cx="400.87" cy="390.88" r="1.35" fill="#fff" stroke="#1c1cff" stroke-width="1"/>
<circle cx="418.33" cy="384.3" r="1.35" fill="#fff" stroke="#1c1cff" stroke-width="1"/>
<circle cx="418.33" cy="383.02" r="1.35" fill="#fff" stroke="#1c1cff" stroke-width="1"/>
<circle cx="418.33" cy="381.75" r="1.35" fill="#fff" stroke="#1c1cff" stroke-width="1"/>
<circle cx="418.33" cy="377.92" r="1.35" fill="#fff" stroke="#1c1cff" stroke-width="1"/>
<circle cx="435.8" cy="374.1" r="1.35" fill="#fff" stroke="#1c1cff" stroke-width="1"/>
<circle cx="435.8" cy="372.83" r="1.35" fill="#fff" stroke="#1c1cff" stroke-width="1"/>
<circle cx="435.8" cy="371.13" r="1.35" fill="#fff" stroke="#1c1cff" stroke-width="1"/>
<circle cx="435.8" cy="366.24" r="1.35" fill="#fff" stroke="#1c1cff" stroke-width="1"/>
<circle cx="435.8" cy="361.99" r="1.35" fill="#fff" stroke="#1c1cff" stroke-width="1"/>
<circle cx="453.27" cy="365.6" r="1.35" fill="#fff" stroke="#1c1cff" stroke-width="1"/>
<circle cx="453.27" cy="364.12" r="1.35" fill="#fff" stroke="#1c1cff" stroke-width="1"/>
<circle cx="453.27" cy="363.06" r="1.35" fill="#fff" stroke="#1c1cff" stroke-width="1"/>
<circle cx="453.27" cy="361.78" r="1.35" fill="#fff" stroke="#1c1cff" stroke-width="1"/>
<circle cx="453.27" cy="356.26" r="1.35" fill="#fff" stroke="#1c1cff" stroke-width="1"/>
<circle cx="470.73" cy="357.11" r="1.35" fill="#fff" stroke="#1c1cff" stroke-width="1"/>
<circle cx="470.73" cy="355.41" r="1.35" fill="#fff" stroke="#1c1cff" stroke-width="1"/>
<circle cx="470.73" cy="353.71" r="1.35" fill="#fff" stroke="#1c1cff" stroke-width="1"/>
<circle cx="470.73" cy="352.01" r="1.35" fill="#fff" stroke="#1c1cff" stroke-width="1"/>
<circle cx="470.73" cy="349.89" r="1.35" fill="#fff" stroke="#1c1cff" stroke-width="1"/>
<circle cx="470.73" cy="348.19" r="1.35" fill="#fff" stroke="#1c1cff" stroke-width="1"/>
<circle cx="488.2" cy="351.8" r="1.35" fill="#fff" stroke="#1c1cff" stroke-width="1"/>
<circle cx="488.2" cy="350.31" r="1.35" fill="#fff" stroke="#1c1cff" stroke-width="1"/>
<circle cx="488.2" cy="348.61" r="1.35" fill="#fff" stroke="#1c1cff" stroke-width="1"/>
<circle cx="488.2" cy="346.91" r="1.35" fill="#fff" stroke="#1c1cff" stroke-width="1"/>
<circle cx="488.2" cy="345.21" r="1.35" fill="#fff" stroke="#1c1cff" stroke-width="1"/>
<circle cx="488.2" cy="343.52" r="1.35" fill="#fff" stroke="#1c1cff" stroke-width="1"/>
<circle cx="488.2" cy="341.82" r="1.35" fill="#fff" stroke="#1c1cff" stroke-width="1"/>
<rect x="331" y="322.7" width="209.6" height="106.2" fill="none" stroke="#3a3a3a" stroke-width="1"/>
<text x="337" y="333.2" font-size="7.5" font-weight="bold" fill="#1c1cff"># of data = 8</text>
<text transform="translate(314.5,370) rotate(-90)" text-anchor="middle" font-size="7.8" font-weight="bold">&lt;<tspan font-style="italic">U</tspan><tspan font-size="5.07" dy="1.5" font-style="italic">B</tspan><tspan dy="-1.5">&gt; (mm/s)</tspan></text>
<text x="418" y="448" font-size="7.8" font-weight="bold"><tspan font-style="italic">Q</tspan><tspan font-size="5.07" dy="1.5" font-style="italic">sp</tspan><tspan dy="-1.5"> (mL/h)</tspan></text>
<text x="460.8" y="368.8" font-size="7" fill="#1c1cff">y = -7.7703x<tspan font-size="4.2" dy="-2.4">2</tspan><tspan dy="2.4"> + 37.127x</tspan></text>
<text x="478.3" y="377.3" font-size="6.9" fill="#1c1cff" font-weight="bold" font-style="italic">R<tspan font-size="4.14" dy="-2.4">2</tspan><tspan dy="2.4"> = 0.9875</tspan></text>
</svg>
</body></html>
